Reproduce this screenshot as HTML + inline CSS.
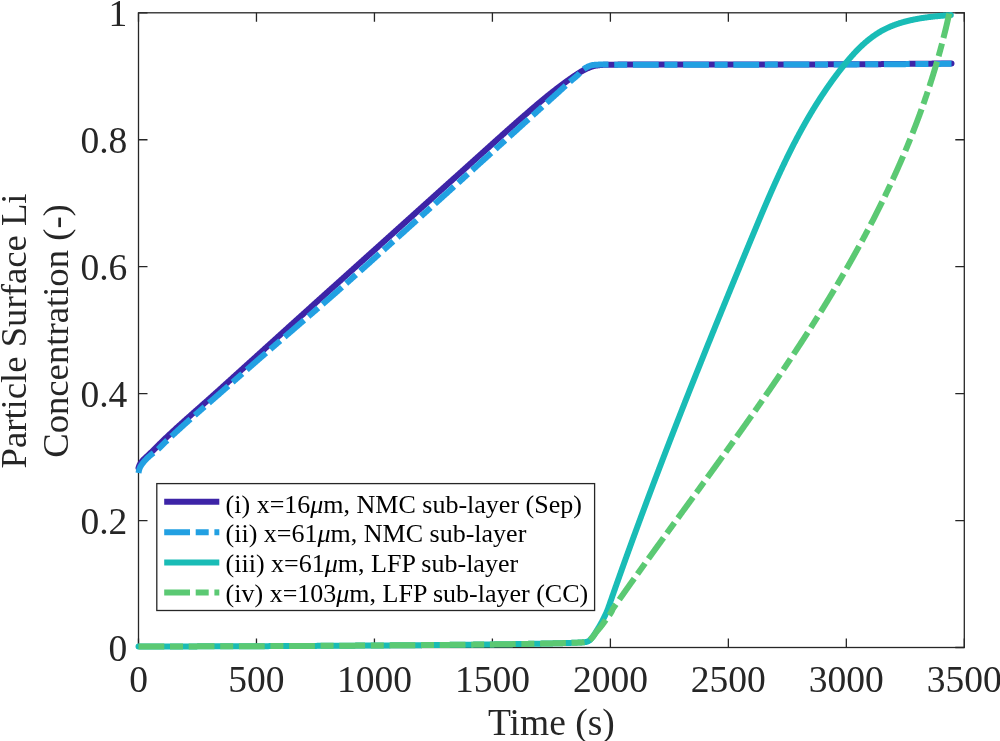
<!DOCTYPE html>
<html><head><meta charset="utf-8"><style>
html,body{margin:0;padding:0;background:#fff;}
svg{display:block;}
text{font-family:"Liberation Serif","Times New Roman",serif;fill:#262626;}
.lg text{fill:#000;}
</style></head><body>
<svg width="1000" height="741" viewBox="0 0 1000 741">
<rect x="0" y="0" width="1000" height="741" fill="#fff"/>
<rect x="138.5" y="12.8" width="825.80" height="634.70" fill="none" stroke="#262626" stroke-width="1.3"/>
<path d="M138.50,647.5 V638.5 M138.50,12.8 V21.8 M256.47,647.5 V638.5 M256.47,12.8 V21.8 M374.44,647.5 V638.5 M374.44,12.8 V21.8 M492.41,647.5 V638.5 M492.41,12.8 V21.8 M610.39,647.5 V638.5 M610.39,12.8 V21.8 M728.36,647.5 V638.5 M728.36,12.8 V21.8 M846.33,647.5 V638.5 M846.33,12.8 V21.8 M964.30,647.5 V638.5 M964.30,12.8 V21.8 M138.5,647.50 H147.5 M964.3,647.50 H955.3 M138.5,520.56 H147.5 M964.3,520.56 H955.3 M138.5,393.62 H147.5 M964.3,393.62 H955.3 M138.5,266.68 H147.5 M964.3,266.68 H955.3 M138.5,139.74 H147.5 M964.3,139.74 H955.3 M138.5,12.80 H147.5 M964.3,12.80 H955.3" stroke="#262626" stroke-width="1.3" fill="none"/>
<g font-size="37.5"><text x="138.50" y="692" text-anchor="middle">0</text><text x="256.47" y="692" text-anchor="middle">500</text><text x="374.44" y="692" text-anchor="middle">1000</text><text x="492.41" y="692" text-anchor="middle">1500</text><text x="610.39" y="692" text-anchor="middle">2000</text><text x="728.36" y="692" text-anchor="middle">2500</text><text x="846.33" y="692" text-anchor="middle">3000</text><text x="964.30" y="692" text-anchor="middle">3500</text><text x="127.3" y="660.50" text-anchor="end">0</text><text x="127.3" y="533.56" text-anchor="end">0.2</text><text x="127.3" y="406.62" text-anchor="end">0.4</text><text x="127.3" y="279.68" text-anchor="end">0.6</text><text x="127.3" y="152.74" text-anchor="end">0.8</text><text x="127.3" y="25.80" text-anchor="end">1</text></g>
<text x="551.40" y="735" font-size="37.5" text-anchor="middle">Time (s)</text>
<g transform="translate(0,331.0) rotate(-90)" font-size="36.7" text-anchor="middle">
<text x="0" y="26.3">Particle Surface Li</text>
<text x="0" y="67.5">Concentration (-)</text>
</g>

<path d="M138.50,468.00 L139.00,466.47 L139.50,465.20 L140.00,464.20 L140.50,463.35 L141.00,462.60 L141.50,461.91 L142.00,461.28 L142.50,460.69 L143.00,460.14 L143.50,459.60 L144.00,459.08 L144.50,458.60 L145.00,458.13 L145.50,457.67 L146.00,457.22 L146.50,456.76 L147.00,456.30 L147.50,455.83 L148.00,455.36 L148.50,454.90 L149.00,454.43 L149.50,453.97 L150.00,453.50 L150.50,453.03 L151.00,452.56 L151.50,452.08 L152.00,451.60 L152.50,451.11 L153.00,450.62 L153.50,450.11 L154.00,449.61 L154.50,449.10 L155.00,448.59 L155.50,448.07 L156.00,447.56 L156.50,447.04 L157.00,446.53 L157.50,446.02 L158.00,445.51 L158.50,445.00 L159.00,444.50 L159.50,444.01 L160.00,443.52 L160.50,443.04 L161.00,442.56 L161.50,442.08 L162.00,441.59 L162.50,441.12 L163.00,440.64 L163.50,440.16 L164.00,439.68 L164.50,439.21 L165.00,438.73 L165.50,438.26 L166.00,437.79 L166.50,437.32 L167.00,436.85 L167.50,436.38 L168.00,435.91 L168.50,435.44 L169.00,434.97 L169.50,434.50 L170.00,434.04 L170.50,433.57 L171.00,433.11 L171.50,432.65 L172.00,432.18 L172.50,431.72 L173.00,431.26 L173.50,430.80 L174.00,430.34 L174.50,429.88 L175.00,429.42 L175.50,428.96 L176.00,428.51 L176.50,428.05 L177.00,427.60 L177.50,427.14 L178.00,426.69 L178.50,426.23 L179.00,425.78 L179.50,425.32 L180.00,424.87 L180.50,424.42 L181.00,423.97 L181.50,423.52 L182.00,423.07 L182.50,422.62 L183.00,422.17 L183.50,421.72 L184.00,421.27 L184.50,420.82 L185.00,420.38 L185.50,419.93 L186.00,419.48 L186.50,419.03 L187.00,418.59 L187.50,418.14 L188.00,417.70 L188.50,417.25 L189.00,416.81 L189.50,416.36 L190.00,415.92 L190.50,415.47 L191.00,415.03 L191.50,414.59 L192.00,414.14 L192.50,413.70 L193.00,413.26 L193.50,412.81 L194.00,412.37 L194.50,411.93 L195.00,411.49 L195.50,411.04 L196.00,410.60 L196.50,410.16 L197.00,409.72 L197.50,409.28 L198.00,408.83 L198.50,408.39 L199.00,407.95 L199.50,407.51 L200.00,407.07 L200.50,406.63 L201.00,406.18 L201.50,405.74 L202.00,405.30 L202.50,404.86 L203.00,404.42 L203.50,403.98 L204.00,403.53 L204.50,403.09 L205.00,402.65 L205.50,402.21 L206.00,401.77 L206.50,401.32 L207.00,400.88 L207.50,400.44 L208.00,399.99 L208.50,399.55 L209.00,399.11 L209.50,398.66 L210.00,398.22 L210.50,397.77 L211.00,397.33 L211.50,396.89 L212.00,396.44 L212.50,395.99 L213.00,395.55 L213.50,395.10 L214.00,394.66 L214.50,394.21 L215.00,393.76 L215.50,393.31 L216.00,392.87 L216.50,392.42 L217.00,391.97 L217.50,391.52 L218.00,391.07 L218.50,390.62 L219.00,390.17 L219.50,389.72 L220.00,389.26 L220.50,388.81 L221.00,388.36 L221.50,387.91 L222.00,387.46 L222.50,387.00 L223.00,386.55 L223.50,386.10 L224.00,385.65 L224.50,385.19 L225.00,384.74 L225.50,384.29 L226.00,383.84 L226.50,383.38 L227.00,382.93 L227.50,382.48 L228.00,382.03 L228.50,381.58 L229.00,381.12 L229.50,380.67 L230.00,380.22 L230.50,379.77 L231.00,379.31 L231.50,378.86 L232.00,378.41 L232.50,377.96 L233.00,377.50 L233.50,377.05 L234.00,376.60 L234.50,376.15 L235.00,375.69 L235.50,375.24 L236.00,374.79 L236.50,374.34 L237.00,373.88 L237.50,373.43 L238.00,372.98 L238.50,372.53 L239.00,372.07 L239.50,371.62 L240.00,371.17 L240.50,370.72 L241.00,370.26 L241.50,369.81 L242.00,369.36 L242.50,368.91 L243.00,368.45 L243.50,368.00 L244.00,367.55 L244.50,367.10 L245.00,366.64 L245.50,366.19 L246.00,365.74 L246.50,365.29 L247.00,364.83 L247.50,364.38 L248.00,363.93 L248.50,363.48 L249.00,363.02 L249.50,362.57 L250.00,362.12 L250.50,361.67 L251.00,361.21 L251.50,360.76 L252.00,360.31 L252.50,359.86 L253.00,359.40 L253.50,358.95 L254.00,358.50 L254.50,358.05 L255.00,357.59 L255.50,357.14 L256.00,356.69 L256.50,356.24 L257.00,355.78 L257.50,355.33 L258.00,354.88 L258.50,354.43 L259.00,353.97 L259.50,353.52 L260.00,353.07 L260.50,352.62 L261.00,352.16 L261.50,351.71 L262.00,351.26 L262.50,350.81 L263.00,350.35 L263.50,349.90 L264.00,349.45 L264.50,349.00 L265.00,348.54 L265.50,348.09 L266.00,347.64 L266.50,347.19 L267.00,346.73 L267.50,346.28 L268.00,345.83 L268.50,345.38 L269.00,344.93 L269.50,344.47 L270.00,344.02 L270.50,343.57 L271.00,343.12 L271.50,342.66 L272.00,342.21 L272.50,341.76 L273.00,341.31 L273.50,340.86 L274.00,340.40 L274.50,339.95 L275.00,339.50 L275.50,339.05 L276.00,338.59 L276.50,338.14 L277.00,337.69 L277.50,337.24 L278.00,336.79 L278.50,336.33 L279.00,335.88 L279.50,335.43 L280.00,334.98 L280.50,334.53 L281.00,334.08 L281.50,333.62 L282.00,333.17 L282.50,332.72 L283.00,332.27 L283.50,331.82 L284.00,331.36 L284.50,330.91 L285.00,330.46 L285.50,330.01 L286.00,329.56 L286.50,329.11 L287.00,328.65 L287.50,328.20 L288.00,327.75 L288.50,327.30 L289.00,326.85 L289.50,326.40 L290.00,325.94 L290.50,325.49 L291.00,325.04 L291.50,324.59 L292.00,324.14 L292.50,323.69 L293.00,323.24 L293.50,322.78 L294.00,322.33 L294.50,321.88 L295.00,321.43 L295.50,320.98 L296.00,320.53 L296.50,320.08 L297.00,319.63 L297.50,319.18 L298.00,318.72 L298.50,318.27 L299.00,317.82 L299.50,317.37 L300.00,316.92 L300.50,316.47 L301.00,316.02 L301.50,315.57 L302.00,315.12 L302.50,314.67 L303.00,314.21 L303.50,313.76 L304.00,313.31 L304.50,312.86 L305.00,312.41 L305.50,311.96 L306.00,311.51 L306.50,311.06 L307.00,310.61 L307.50,310.16 L308.00,309.71 L308.50,309.26 L309.00,308.81 L309.50,308.36 L310.00,307.91 L310.50,307.46 L311.00,307.01 L311.50,306.55 L312.00,306.10 L312.50,305.65 L313.00,305.20 L313.50,304.75 L314.00,304.30 L314.50,303.85 L315.00,303.40 L315.50,302.95 L316.00,302.50 L316.50,302.05 L317.00,301.60 L317.50,301.15 L318.00,300.70 L318.50,300.25 L319.00,299.80 L319.50,299.35 L320.00,298.90 L320.50,298.45 L321.00,298.00 L321.50,297.55 L322.00,297.10 L322.50,296.65 L323.00,296.20 L323.50,295.75 L324.00,295.30 L324.50,294.85 L325.00,294.40 L325.50,293.95 L326.00,293.50 L326.50,293.05 L327.00,292.60 L327.50,292.15 L328.00,291.70 L328.50,291.25 L329.00,290.80 L329.50,290.35 L330.00,289.90 L330.50,289.45 L331.00,289.00 L331.50,288.55 L332.00,288.10 L332.50,287.65 L333.00,287.20 L333.50,286.76 L334.00,286.31 L334.50,285.86 L335.00,285.41 L335.50,284.96 L336.00,284.51 L336.50,284.06 L337.00,283.61 L337.50,283.16 L338.00,282.71 L338.50,282.26 L339.00,281.81 L339.50,281.36 L340.00,280.91 L340.50,280.46 L341.00,280.01 L341.50,279.56 L342.00,279.11 L342.50,278.66 L343.00,278.21 L343.50,277.76 L344.00,277.32 L344.50,276.87 L345.00,276.42 L345.50,275.97 L346.00,275.52 L346.50,275.07 L347.00,274.62 L347.50,274.17 L348.00,273.72 L348.50,273.27 L349.00,272.82 L349.50,272.37 L350.00,271.92 L350.50,271.47 L351.00,271.02 L351.50,270.57 L352.00,270.13 L352.50,269.68 L353.00,269.23 L353.50,268.78 L354.00,268.33 L354.50,267.88 L355.00,267.43 L355.50,266.98 L356.00,266.53 L356.50,266.08 L357.00,265.63 L357.50,265.18 L358.00,264.73 L358.50,264.28 L359.00,263.84 L359.50,263.39 L360.00,262.94 L360.50,262.49 L361.00,262.04 L361.50,261.59 L362.00,261.14 L362.50,260.69 L363.00,260.24 L363.50,259.79 L364.00,259.34 L364.50,258.89 L365.00,258.44 L365.50,258.00 L366.00,257.55 L366.50,257.10 L367.00,256.65 L367.50,256.20 L368.00,255.75 L368.50,255.30 L369.00,254.85 L369.50,254.40 L370.00,253.95 L370.50,253.50 L371.00,253.05 L371.50,252.61 L372.00,252.16 L372.50,251.71 L373.00,251.26 L373.50,250.81 L374.00,250.36 L374.50,249.91 L375.00,249.46 L375.50,249.01 L376.00,248.56 L376.50,248.11 L377.00,247.66 L377.50,247.21 L378.00,246.76 L378.50,246.32 L379.00,245.87 L379.50,245.42 L380.00,244.97 L380.50,244.52 L381.00,244.07 L381.50,243.62 L382.00,243.17 L382.50,242.72 L383.00,242.27 L383.50,241.82 L384.00,241.37 L384.50,240.92 L385.00,240.47 L385.50,240.03 L386.00,239.58 L386.50,239.13 L387.00,238.68 L387.50,238.23 L388.00,237.78 L388.50,237.33 L389.00,236.88 L389.50,236.43 L390.00,235.98 L390.50,235.53 L391.00,235.08 L391.50,234.63 L392.00,234.18 L392.50,233.73 L393.00,233.28 L393.50,232.83 L394.00,232.38 L394.50,231.94 L395.00,231.49 L395.50,231.04 L396.00,230.59 L396.50,230.14 L397.00,229.69 L397.50,229.24 L398.00,228.79 L398.50,228.34 L399.00,227.89 L399.50,227.44 L400.00,226.99 L400.50,226.54 L401.00,226.09 L401.50,225.64 L402.00,225.19 L402.50,224.74 L403.00,224.29 L403.50,223.84 L404.00,223.39 L404.50,222.94 L405.00,222.49 L405.50,222.04 L406.00,221.59 L406.50,221.14 L407.00,220.69 L407.50,220.24 L408.00,219.79 L408.50,219.34 L409.00,218.89 L409.50,218.44 L410.00,217.99 L410.50,217.54 L411.00,217.10 L411.50,216.65 L412.00,216.20 L412.50,215.75 L413.00,215.30 L413.50,214.85 L414.00,214.40 L414.50,213.95 L415.00,213.50 L415.50,213.05 L416.00,212.60 L416.50,212.15 L417.00,211.70 L417.50,211.25 L418.00,210.80 L418.50,210.35 L419.00,209.90 L419.50,209.45 L420.00,209.00 L420.50,208.55 L421.00,208.10 L421.50,207.65 L422.00,207.20 L422.50,206.75 L423.00,206.30 L423.50,205.85 L424.00,205.40 L424.50,204.95 L425.00,204.50 L425.50,204.05 L426.00,203.60 L426.50,203.15 L427.00,202.70 L427.50,202.25 L428.00,201.80 L428.50,201.35 L429.00,200.90 L429.50,200.45 L430.00,200.00 L430.50,199.55 L431.00,199.10 L431.50,198.65 L432.00,198.20 L432.50,197.75 L433.00,197.30 L433.50,196.85 L434.00,196.40 L434.50,195.95 L435.00,195.50 L435.50,195.05 L436.00,194.60 L436.50,194.15 L437.00,193.70 L437.50,193.25 L438.00,192.80 L438.50,192.35 L439.00,191.90 L439.50,191.45 L440.00,191.00 L440.50,190.55 L441.00,190.10 L441.50,189.65 L442.00,189.20 L442.50,188.75 L443.00,188.30 L443.50,187.85 L444.00,187.40 L444.50,186.95 L445.00,186.50 L445.50,186.05 L446.00,185.60 L446.50,185.15 L447.00,184.70 L447.50,184.25 L448.00,183.80 L448.50,183.35 L449.00,182.90 L449.50,182.45 L450.00,182.00 L450.50,181.55 L451.00,181.10 L451.50,180.65 L452.00,180.20 L452.50,179.75 L453.00,179.30 L453.50,178.85 L454.00,178.40 L454.50,177.95 L455.00,177.50 L455.50,177.06 L456.00,176.61 L456.50,176.16 L457.00,175.71 L457.50,175.26 L458.00,174.81 L458.50,174.36 L459.00,173.91 L459.50,173.46 L460.00,173.01 L460.50,172.56 L461.00,172.11 L461.50,171.66 L462.00,171.21 L462.50,170.76 L463.00,170.31 L463.50,169.86 L464.00,169.41 L464.50,168.96 L465.00,168.52 L465.50,168.07 L466.00,167.62 L466.50,167.17 L467.00,166.72 L467.50,166.27 L468.00,165.82 L468.50,165.37 L469.00,164.92 L469.50,164.47 L470.00,164.02 L470.50,163.57 L471.00,163.13 L471.50,162.68 L472.00,162.23 L472.50,161.78 L473.00,161.33 L473.50,160.88 L474.00,160.43 L474.50,159.98 L475.00,159.53 L475.50,159.08 L476.00,158.64 L476.50,158.19 L477.00,157.74 L477.50,157.29 L478.00,156.84 L478.50,156.39 L479.00,155.94 L479.50,155.49 L480.00,155.05 L480.50,154.60 L481.00,154.15 L481.50,153.70 L482.00,153.25 L482.50,152.80 L483.00,152.35 L483.50,151.90 L484.00,151.45 L484.50,151.00 L485.00,150.55 L485.50,150.10 L486.00,149.65 L486.50,149.20 L487.00,148.75 L487.50,148.30 L488.00,147.85 L488.50,147.40 L489.00,146.95 L489.50,146.50 L490.00,146.05 L490.50,145.60 L491.00,145.15 L491.50,144.70 L492.00,144.25 L492.50,143.80 L493.00,143.35 L493.50,142.90 L494.00,142.45 L494.50,142.00 L495.00,141.55 L495.50,141.10 L496.00,140.65 L496.50,140.20 L497.00,139.75 L497.50,139.30 L498.00,138.85 L498.50,138.40 L499.00,137.95 L499.50,137.51 L500.00,137.06 L500.50,136.61 L501.00,136.16 L501.50,135.71 L502.00,135.26 L502.50,134.81 L503.00,134.37 L503.50,133.92 L504.00,133.47 L504.50,133.02 L505.00,132.58 L505.50,132.13 L506.00,131.68 L506.50,131.24 L507.00,130.79 L507.50,130.35 L508.00,129.90 L508.50,129.46 L509.00,129.01 L509.50,128.57 L510.00,128.12 L510.50,127.68 L511.00,127.23 L511.50,126.79 L512.00,126.35 L512.50,125.90 L513.00,125.46 L513.50,125.02 L514.00,124.58 L514.50,124.14 L515.00,123.70 L515.50,123.25 L516.00,122.81 L516.50,122.37 L517.00,121.93 L517.50,121.50 L518.00,121.06 L518.50,120.62 L519.00,120.18 L519.50,119.74 L520.00,119.30 L520.50,118.86 L521.00,118.43 L521.50,117.99 L522.00,117.55 L522.50,117.12 L523.00,116.68 L523.50,116.25 L524.00,115.81 L524.50,115.38 L525.00,114.94 L525.50,114.51 L526.00,114.08 L526.50,113.64 L527.00,113.21 L527.50,112.78 L528.00,112.35 L528.50,111.92 L529.00,111.49 L529.50,111.06 L530.00,110.63 L530.50,110.20 L531.00,109.77 L531.50,109.34 L532.00,108.92 L532.50,108.49 L533.00,108.06 L533.50,107.63 L534.00,107.20 L534.50,106.77 L535.00,106.35 L535.50,105.92 L536.00,105.49 L536.50,105.07 L537.00,104.64 L537.50,104.22 L538.00,103.79 L538.50,103.37 L539.00,102.95 L539.50,102.52 L540.00,102.10 L540.50,101.68 L541.00,101.27 L541.50,100.85 L542.00,100.43 L542.50,100.02 L543.00,99.61 L543.50,99.19 L544.00,98.78 L544.50,98.37 L545.00,97.97 L545.50,97.56 L546.00,97.15 L546.50,96.75 L547.00,96.35 L547.50,95.94 L548.00,95.54 L548.50,95.14 L549.00,94.74 L549.50,94.34 L550.00,93.94 L550.50,93.54 L551.00,93.14 L551.50,92.75 L552.00,92.35 L552.50,91.96 L553.00,91.57 L553.50,91.18 L554.00,90.79 L554.50,90.40 L555.00,90.01 L555.50,89.62 L556.00,89.24 L556.50,88.85 L557.00,88.47 L557.50,88.09 L558.00,87.71 L558.50,87.33 L559.00,86.95 L559.50,86.58 L560.00,86.20 L560.50,85.83 L561.00,85.46 L561.50,85.08 L562.00,84.71 L562.50,84.34 L563.00,83.97 L563.50,83.59 L564.00,83.22 L564.50,82.86 L565.00,82.49 L565.50,82.12 L566.00,81.75 L566.50,81.39 L567.00,81.03 L567.50,80.67 L568.00,80.31 L568.50,79.95 L569.00,79.59 L569.50,79.24 L570.00,78.88 L570.50,78.53 L571.00,78.19 L571.50,77.84 L572.00,77.50 L572.50,77.16 L573.00,76.82 L573.50,76.49 L574.00,76.15 L574.50,75.83 L575.00,75.50 L575.50,75.17 L576.00,74.85 L576.50,74.52 L577.00,74.19 L577.50,73.87 L578.00,73.54 L578.50,73.22 L579.00,72.89 L579.50,72.58 L580.00,72.26 L580.50,71.95 L581.00,71.65 L581.50,71.35 L582.00,71.06 L582.50,70.78 L583.00,70.50 L583.50,70.24 L584.00,69.98 L584.50,69.73 L585.00,69.50 L585.50,69.27 L586.00,69.04 L586.50,68.81 L587.00,68.58 L587.50,68.35 L588.00,68.13 L588.50,67.91 L589.00,67.69 L589.50,67.48 L590.00,67.27 L590.50,67.08 L591.00,66.89 L591.50,66.71 L592.00,66.54 L592.50,66.38 L593.00,66.24 L593.50,66.11 L594.00,65.99 L594.50,65.89 L595.00,65.80 L595.50,65.72 L596.00,65.65 L596.50,65.57 L597.00,65.50 L597.50,65.43 L598.00,65.37 L598.50,65.30 L599.00,65.24 L599.50,65.18 L600.00,65.13 L600.50,65.08 L601.00,65.03 L601.50,64.99 L602.00,64.95 L602.50,64.91 L603.00,64.88 L603.50,64.85 L604.00,64.83 L604.50,64.81 L605.00,64.80 L605.50,64.79 L606.00,64.78 L606.50,64.77 L607.00,64.76 L607.50,64.75 L608.00,64.74 L608.50,64.74 L609.00,64.73 L609.50,64.72 L610.00,64.71 L610.50,64.71 L611.00,64.70 L611.50,64.69 L612.00,64.68 L612.50,64.68 L613.00,64.67 L613.50,64.67 L614.00,64.66 L614.50,64.66 L615.00,64.65 L615.50,64.65 L616.00,64.64 L616.50,64.64 L617.00,64.63 L617.50,64.63 L618.00,64.62 L618.50,64.62 L619.00,64.62 L619.50,64.62 L620.00,64.61 L620.50,64.61 L621.00,64.61 L621.50,64.61 L622.00,64.60 L622.50,64.60 L623.00,64.60 L623.50,64.60 L624.00,64.60 L624.50,64.60 L625.00,64.60 L625.50,64.60 L626.00,64.60 L626.50,64.60 L627.00,64.60 L627.50,64.60 L628.00,64.60 L628.50,64.60 L629.00,64.60 L629.50,64.60 L630.00,64.60 L630.50,64.60 L631.00,64.60 L631.50,64.60 L632.00,64.60 L632.50,64.60 L633.00,64.60 L633.50,64.60 L634.00,64.60 L634.50,64.60 L635.00,64.60 L635.50,64.60 L636.00,64.60 L636.50,64.60 L637.00,64.60 L637.50,64.60 L638.00,64.60 L638.50,64.60 L639.00,64.60 L639.50,64.60 L640.00,64.60 L640.50,64.60 L641.00,64.60 L641.50,64.60 L642.00,64.60 L642.50,64.60 L643.00,64.60 L643.50,64.60 L644.00,64.60 L644.50,64.60 L645.00,64.60 L645.50,64.60 L646.00,64.60 L646.50,64.60 L647.00,64.60 L647.50,64.60 L648.00,64.60 L648.50,64.60 L649.00,64.60 L649.50,64.60 L650.00,64.60 L650.50,64.60 L651.00,64.60 L651.50,64.60 L652.00,64.60 L652.50,64.60 L653.00,64.60 L653.50,64.60 L654.00,64.60 L654.50,64.60 L655.00,64.60 L655.50,64.60 L656.00,64.60 L656.50,64.60 L657.00,64.60 L657.50,64.60 L658.00,64.60 L658.50,64.60 L659.00,64.60 L659.50,64.60 L660.00,64.60 L660.50,64.60 L661.00,64.60 L661.50,64.60 L662.00,64.60 L662.50,64.60 L663.00,64.60 L663.50,64.60 L664.00,64.60 L664.50,64.60 L665.00,64.60 L665.50,64.60 L666.00,64.60 L666.50,64.60 L667.00,64.60 L667.50,64.60 L668.00,64.60 L668.50,64.60 L669.00,64.60 L669.50,64.60 L670.00,64.60 L670.50,64.60 L671.00,64.60 L671.50,64.60 L672.00,64.60 L672.50,64.60 L673.00,64.60 L673.50,64.60 L674.00,64.60 L674.50,64.60 L675.00,64.60 L675.50,64.60 L676.00,64.60 L676.50,64.60 L677.00,64.60 L677.50,64.60 L678.00,64.60 L678.50,64.60 L679.00,64.60 L679.50,64.60 L680.00,64.60 L680.50,64.60 L681.00,64.60 L681.50,64.60 L682.00,64.60 L682.50,64.60 L683.00,64.60 L683.50,64.60 L684.00,64.60 L684.50,64.60 L685.00,64.60 L685.50,64.60 L686.00,64.60 L686.50,64.60 L687.00,64.60 L687.50,64.60 L688.00,64.60 L688.50,64.60 L689.00,64.60 L689.50,64.60 L690.00,64.60 L690.50,64.60 L691.00,64.60 L691.50,64.60 L692.00,64.60 L692.50,64.60 L693.00,64.60 L693.50,64.60 L694.00,64.60 L694.50,64.60 L695.00,64.60 L695.50,64.60 L696.00,64.60 L696.50,64.60 L697.00,64.60 L697.50,64.60 L698.00,64.60 L698.50,64.60 L699.00,64.60 L699.50,64.60 L700.00,64.60 L700.50,64.60 L701.00,64.60 L701.50,64.60 L702.00,64.60 L702.50,64.60 L703.00,64.60 L703.50,64.60 L704.00,64.60 L704.50,64.60 L705.00,64.60 L705.50,64.60 L706.00,64.60 L706.50,64.60 L707.00,64.60 L707.50,64.60 L708.00,64.60 L708.50,64.60 L709.00,64.60 L709.50,64.60 L710.00,64.60 L710.50,64.60 L711.00,64.60 L711.50,64.60 L712.00,64.60 L712.50,64.60 L713.00,64.60 L713.50,64.60 L714.00,64.60 L714.50,64.60 L715.00,64.60 L715.50,64.60 L716.00,64.60 L716.50,64.60 L717.00,64.60 L717.50,64.59 L718.00,64.59 L718.50,64.59 L719.00,64.59 L719.50,64.59 L720.00,64.59 L720.50,64.59 L721.00,64.59 L721.50,64.59 L722.00,64.59 L722.50,64.59 L723.00,64.59 L723.50,64.59 L724.00,64.59 L724.50,64.59 L725.00,64.59 L725.50,64.59 L726.00,64.59 L726.50,64.59 L727.00,64.59 L727.50,64.59 L728.00,64.59 L728.50,64.59 L729.00,64.59 L729.50,64.59 L730.00,64.59 L730.50,64.58 L731.00,64.58 L731.50,64.58 L732.00,64.58 L732.50,64.58 L733.00,64.58 L733.50,64.58 L734.00,64.58 L734.50,64.58 L735.00,64.58 L735.50,64.58 L736.00,64.58 L736.50,64.58 L737.00,64.58 L737.50,64.58 L738.00,64.58 L738.50,64.58 L739.00,64.58 L739.50,64.57 L740.00,64.57 L740.50,64.57 L741.00,64.57 L741.50,64.57 L742.00,64.57 L742.50,64.57 L743.00,64.57 L743.50,64.57 L744.00,64.57 L744.50,64.57 L745.00,64.57 L745.50,64.57 L746.00,64.57 L746.50,64.57 L747.00,64.56 L747.50,64.56 L748.00,64.56 L748.50,64.56 L749.00,64.56 L749.50,64.56 L750.00,64.56 L750.50,64.56 L751.00,64.56 L751.50,64.56 L752.00,64.56 L752.50,64.56 L753.00,64.56 L753.50,64.55 L754.00,64.55 L754.50,64.55 L755.00,64.55 L755.50,64.55 L756.00,64.55 L756.50,64.55 L757.00,64.55 L757.50,64.55 L758.00,64.55 L758.50,64.55 L759.00,64.55 L759.50,64.54 L760.00,64.54 L760.50,64.54 L761.00,64.54 L761.50,64.54 L762.00,64.54 L762.50,64.54 L763.00,64.54 L763.50,64.54 L764.00,64.54 L764.50,64.54 L765.00,64.53 L765.50,64.53 L766.00,64.53 L766.50,64.53 L767.00,64.53 L767.50,64.53 L768.00,64.53 L768.50,64.53 L769.00,64.53 L769.50,64.53 L770.00,64.52 L770.50,64.52 L771.00,64.52 L771.50,64.52 L772.00,64.52 L772.50,64.52 L773.00,64.52 L773.50,64.52 L774.00,64.52 L774.50,64.51 L775.00,64.51 L775.50,64.51 L776.00,64.51 L776.50,64.51 L777.00,64.51 L777.50,64.51 L778.00,64.51 L778.50,64.51 L779.00,64.51 L779.50,64.50 L780.00,64.50 L780.50,64.50 L781.00,64.50 L781.50,64.50 L782.00,64.50 L782.50,64.50 L783.00,64.50 L783.50,64.49 L784.00,64.49 L784.50,64.49 L785.00,64.49 L785.50,64.49 L786.00,64.49 L786.50,64.49 L787.00,64.49 L787.50,64.49 L788.00,64.48 L788.50,64.48 L789.00,64.48 L789.50,64.48 L790.00,64.48 L790.50,64.48 L791.00,64.48 L791.50,64.48 L792.00,64.47 L792.50,64.47 L793.00,64.47 L793.50,64.47 L794.00,64.47 L794.50,64.47 L795.00,64.47 L795.50,64.47 L796.00,64.46 L796.50,64.46 L797.00,64.46 L797.50,64.46 L798.00,64.46 L798.50,64.46 L799.00,64.46 L799.50,64.45 L800.00,64.45 L800.50,64.45 L801.00,64.45 L801.50,64.45 L802.00,64.45 L802.50,64.45 L803.00,64.45 L803.50,64.44 L804.00,64.44 L804.50,64.44 L805.00,64.44 L805.50,64.44 L806.00,64.44 L806.50,64.44 L807.00,64.43 L807.50,64.43 L808.00,64.43 L808.50,64.43 L809.00,64.43 L809.50,64.43 L810.00,64.43 L810.50,64.42 L811.00,64.42 L811.50,64.42 L812.00,64.42 L812.50,64.42 L813.00,64.42 L813.50,64.42 L814.00,64.41 L814.50,64.41 L815.00,64.41 L815.50,64.41 L816.00,64.41 L816.50,64.41 L817.00,64.41 L817.50,64.40 L818.00,64.40 L818.50,64.40 L819.00,64.40 L819.50,64.40 L820.00,64.40 L820.50,64.40 L821.00,64.39 L821.50,64.39 L822.00,64.39 L822.50,64.39 L823.00,64.39 L823.50,64.39 L824.00,64.38 L824.50,64.38 L825.00,64.38 L825.50,64.38 L826.00,64.38 L826.50,64.38 L827.00,64.38 L827.50,64.37 L828.00,64.37 L828.50,64.37 L829.00,64.37 L829.50,64.37 L830.00,64.37 L830.50,64.36 L831.00,64.36 L831.50,64.36 L832.00,64.36 L832.50,64.36 L833.00,64.36 L833.50,64.35 L834.00,64.35 L834.50,64.35 L835.00,64.35 L835.50,64.35 L836.00,64.35 L836.50,64.34 L837.00,64.34 L837.50,64.34 L838.00,64.34 L838.50,64.34 L839.00,64.34 L839.50,64.34 L840.00,64.33 L840.50,64.33 L841.00,64.33 L841.50,64.33 L842.00,64.33 L842.50,64.33 L843.00,64.32 L843.50,64.32 L844.00,64.32 L844.50,64.32 L845.00,64.32 L845.50,64.32 L846.00,64.31 L846.50,64.31 L847.00,64.31 L847.50,64.31 L848.00,64.31 L848.50,64.31 L849.00,64.30 L849.50,64.30 L850.00,64.30 L850.50,64.30 L851.00,64.30 L851.50,64.29 L852.00,64.29 L852.50,64.29 L853.00,64.29 L853.50,64.29 L854.00,64.29 L854.50,64.28 L855.00,64.28 L855.50,64.28 L856.00,64.28 L856.50,64.27 L857.00,64.27 L857.50,64.27 L858.00,64.27 L858.50,64.27 L859.00,64.26 L859.50,64.26 L860.00,64.26 L860.50,64.26 L861.00,64.25 L861.50,64.25 L862.00,64.25 L862.50,64.25 L863.00,64.24 L863.50,64.24 L864.00,64.24 L864.50,64.23 L865.00,64.23 L865.50,64.23 L866.00,64.23 L866.50,64.22 L867.00,64.22 L867.50,64.22 L868.00,64.21 L868.50,64.21 L869.00,64.21 L869.50,64.21 L870.00,64.20 L870.50,64.20 L871.00,64.20 L871.50,64.19 L872.00,64.19 L872.50,64.19 L873.00,64.18 L873.50,64.18 L874.00,64.18 L874.50,64.17 L875.00,64.17 L875.50,64.17 L876.00,64.16 L876.50,64.16 L877.00,64.15 L877.50,64.15 L878.00,64.15 L878.50,64.14 L879.00,64.14 L879.50,64.14 L880.00,64.13 L880.50,64.13 L881.00,64.13 L881.50,64.12 L882.00,64.12 L882.50,64.11 L883.00,64.11 L883.50,64.11 L884.00,64.10 L884.50,64.10 L885.00,64.09 L885.50,64.09 L886.00,64.09 L886.50,64.08 L887.00,64.08 L887.50,64.07 L888.00,64.07 L888.50,64.06 L889.00,64.06 L889.50,64.06 L890.00,64.05 L890.50,64.05 L891.00,64.04 L891.50,64.04 L892.00,64.03 L892.50,64.03 L893.00,64.03 L893.50,64.02 L894.00,64.02 L894.50,64.01 L895.00,64.01 L895.50,64.00 L896.00,64.00 L896.50,63.99 L897.00,63.99 L897.50,63.99 L898.00,63.98 L898.50,63.98 L899.00,63.97 L899.50,63.97 L900.00,63.96 L900.50,63.96 L901.00,63.95 L901.50,63.95 L902.00,63.94 L902.50,63.94 L903.00,63.93 L903.50,63.93 L904.00,63.92 L904.50,63.92 L905.00,63.91 L905.50,63.91 L906.00,63.90 L906.50,63.90 L907.00,63.89 L907.50,63.89 L908.00,63.88 L908.50,63.88 L909.00,63.87 L909.50,63.87 L910.00,63.86 L910.50,63.86 L911.00,63.85 L911.50,63.85 L912.00,63.84 L912.50,63.84 L913.00,63.83 L913.50,63.83 L914.00,63.82 L914.50,63.82 L915.00,63.81 L915.50,63.81 L916.00,63.80 L916.50,63.80 L917.00,63.79 L917.50,63.78 L918.00,63.78 L918.50,63.77 L919.00,63.77 L919.50,63.76 L920.00,63.76 L920.50,63.75 L921.00,63.75 L921.50,63.74 L922.00,63.74 L922.50,63.73 L923.00,63.73 L923.50,63.72 L924.00,63.71 L924.50,63.71 L925.00,63.70 L925.50,63.70 L926.00,63.69 L926.50,63.69 L927.00,63.68 L927.50,63.68 L928.00,63.67 L928.50,63.66 L929.00,63.66 L929.50,63.65 L930.00,63.65 L930.50,63.64 L931.00,63.64 L931.50,63.63 L932.00,63.62 L932.50,63.62 L933.00,63.61 L933.50,63.61 L934.00,63.60 L934.50,63.60 L935.00,63.59 L935.50,63.58 L936.00,63.58 L936.50,63.57 L937.00,63.57 L937.50,63.56 L938.00,63.56 L938.50,63.55 L939.00,63.54 L939.50,63.54 L940.00,63.53 L940.50,63.53 L941.00,63.52 L941.50,63.52 L942.00,63.51 L942.50,63.50 L943.00,63.50 L943.50,63.49 L944.00,63.49 L944.50,63.48 L945.00,63.48 L945.50,63.47 L946.00,63.46 L946.50,63.46 L947.00,63.45 L947.50,63.45 L948.00,63.44 L948.50,63.43 L949.00,63.43 L949.50,63.42 L950.00,63.42 L950.50,63.41 L951.00,63.41 L951.50,63.40" stroke="#3d24a7" stroke-width="6" fill="none" stroke-linejoin="round" stroke-linecap="round"/>
<path d="M138.50,473.00 L139.00,470.29 L139.50,468.61 L140.00,467.45 L140.50,466.50 L141.00,465.64 L141.50,464.87 L142.00,464.17 L142.50,463.50 L143.00,462.85 L143.50,462.24 L144.00,461.65 L144.50,461.08 L145.00,460.53 L145.50,460.00 L146.00,459.48 L146.50,458.97 L147.00,458.47 L147.50,457.98 L148.00,457.51 L148.50,457.04 L149.00,456.59 L149.50,456.14 L150.00,455.70 L150.50,455.27 L151.00,454.86 L151.50,454.47 L152.00,454.08 L152.50,453.70 L153.00,453.32 L153.50,452.95 L154.00,452.58 L154.50,452.20 L155.00,451.82 L155.50,451.43 L156.00,451.04 L156.50,450.63 L157.00,450.20 L157.50,449.76 L158.00,449.30 L158.50,448.84 L159.00,448.36 L159.50,447.88 L160.00,447.39 L160.50,446.89 L161.00,446.39 L161.50,445.88 L162.00,445.38 L162.50,444.87 L163.00,444.37 L163.50,443.87 L164.00,443.37 L164.50,442.88 L165.00,442.40 L165.50,441.92 L166.00,441.45 L166.50,440.97 L167.00,440.50 L167.50,440.03 L168.00,439.55 L168.50,439.08 L169.00,438.61 L169.50,438.14 L170.00,437.67 L170.50,437.21 L171.00,436.74 L171.50,436.27 L172.00,435.80 L172.50,435.34 L173.00,434.87 L173.50,434.41 L174.00,433.95 L174.50,433.49 L175.00,433.02 L175.50,432.56 L176.00,432.10 L176.50,431.64 L177.00,431.18 L177.50,430.72 L178.00,430.27 L178.50,429.81 L179.00,429.35 L179.50,428.90 L180.00,428.44 L180.50,427.99 L181.00,427.53 L181.50,427.08 L182.00,426.63 L182.50,426.18 L183.00,425.72 L183.50,425.27 L184.00,424.82 L184.50,424.37 L185.00,423.92 L185.50,423.48 L186.00,423.03 L186.50,422.58 L187.00,422.14 L187.50,421.69 L188.00,421.25 L188.50,420.80 L189.00,420.36 L189.50,419.91 L190.00,419.47 L190.50,419.03 L191.00,418.59 L191.50,418.14 L192.00,417.70 L192.50,417.26 L193.00,416.82 L193.50,416.38 L194.00,415.94 L194.50,415.51 L195.00,415.07 L195.50,414.63 L196.00,414.19 L196.50,413.75 L197.00,413.32 L197.50,412.88 L198.00,412.44 L198.50,412.01 L199.00,411.57 L199.50,411.13 L200.00,410.70 L200.50,410.26 L201.00,409.83 L201.50,409.39 L202.00,408.96 L202.50,408.52 L203.00,408.09 L203.50,407.65 L204.00,407.22 L204.50,406.78 L205.00,406.35 L205.50,405.92 L206.00,405.48 L206.50,405.05 L207.00,404.61 L207.50,404.18 L208.00,403.75 L208.50,403.31 L209.00,402.88 L209.50,402.44 L210.00,402.01 L210.50,401.58 L211.00,401.14 L211.50,400.71 L212.00,400.27 L212.50,399.84 L213.00,399.40 L213.50,398.97 L214.00,398.53 L214.50,398.10 L215.00,397.66 L215.50,397.23 L216.00,396.79 L216.50,396.35 L217.00,395.92 L217.50,395.48 L218.00,395.04 L218.50,394.61 L219.00,394.17 L219.50,393.73 L220.00,393.29 L220.50,392.85 L221.00,392.41 L221.50,391.97 L222.00,391.54 L222.50,391.10 L223.00,390.66 L223.50,390.22 L224.00,389.78 L224.50,389.34 L225.00,388.90 L225.50,388.46 L226.00,388.02 L226.50,387.58 L227.00,387.14 L227.50,386.70 L228.00,386.26 L228.50,385.82 L229.00,385.38 L229.50,384.94 L230.00,384.51 L230.50,384.07 L231.00,383.63 L231.50,383.19 L232.00,382.75 L232.50,382.31 L233.00,381.87 L233.50,381.43 L234.00,380.99 L234.50,380.55 L235.00,380.11 L235.50,379.67 L236.00,379.23 L236.50,378.79 L237.00,378.35 L237.50,377.91 L238.00,377.47 L238.50,377.03 L239.00,376.59 L239.50,376.15 L240.00,375.71 L240.50,375.27 L241.00,374.83 L241.50,374.40 L242.00,373.96 L242.50,373.52 L243.00,373.08 L243.50,372.64 L244.00,372.20 L244.50,371.76 L245.00,371.32 L245.50,370.89 L246.00,370.45 L246.50,370.01 L247.00,369.57 L247.50,369.13 L248.00,368.70 L248.50,368.26 L249.00,367.82 L249.50,367.38 L250.00,366.95 L250.50,366.51 L251.00,366.07 L251.50,365.63 L252.00,365.20 L252.50,364.76 L253.00,364.32 L253.50,363.89 L254.00,363.45 L254.50,363.02 L255.00,362.58 L255.50,362.14 L256.00,361.71 L256.50,361.27 L257.00,360.84 L257.50,360.40 L258.00,359.97 L258.50,359.53 L259.00,359.10 L259.50,358.67 L260.00,358.23 L260.50,357.80 L261.00,357.36 L261.50,356.93 L262.00,356.50 L262.50,356.06 L263.00,355.63 L263.50,355.20 L264.00,354.76 L264.50,354.33 L265.00,353.90 L265.50,353.46 L266.00,353.03 L266.50,352.60 L267.00,352.16 L267.50,351.73 L268.00,351.30 L268.50,350.87 L269.00,350.44 L269.50,350.00 L270.00,349.57 L270.50,349.14 L271.00,348.71 L271.50,348.28 L272.00,347.84 L272.50,347.41 L273.00,346.98 L273.50,346.55 L274.00,346.12 L274.50,345.69 L275.00,345.26 L275.50,344.82 L276.00,344.39 L276.50,343.96 L277.00,343.53 L277.50,343.10 L278.00,342.67 L278.50,342.24 L279.00,341.81 L279.50,341.38 L280.00,340.94 L280.50,340.51 L281.00,340.08 L281.50,339.65 L282.00,339.22 L282.50,338.79 L283.00,338.36 L283.50,337.93 L284.00,337.50 L284.50,337.07 L285.00,336.64 L285.50,336.21 L286.00,335.78 L286.50,335.34 L287.00,334.91 L287.50,334.48 L288.00,334.05 L288.50,333.62 L289.00,333.19 L289.50,332.76 L290.00,332.33 L290.50,331.90 L291.00,331.47 L291.50,331.04 L292.00,330.61 L292.50,330.17 L293.00,329.74 L293.50,329.31 L294.00,328.88 L294.50,328.45 L295.00,328.02 L295.50,327.59 L296.00,327.16 L296.50,326.73 L297.00,326.29 L297.50,325.86 L298.00,325.43 L298.50,325.00 L299.00,324.57 L299.50,324.14 L300.00,323.70 L300.50,323.27 L301.00,322.84 L301.50,322.41 L302.00,321.98 L302.50,321.55 L303.00,321.12 L303.50,320.69 L304.00,320.25 L304.50,319.82 L305.00,319.39 L305.50,318.96 L306.00,318.53 L306.50,318.10 L307.00,317.67 L307.50,317.24 L308.00,316.81 L308.50,316.38 L309.00,315.95 L309.50,315.52 L310.00,315.09 L310.50,314.66 L311.00,314.23 L311.50,313.80 L312.00,313.37 L312.50,312.94 L313.00,312.51 L313.50,312.08 L314.00,311.65 L314.50,311.22 L315.00,310.79 L315.50,310.36 L316.00,309.93 L316.50,309.50 L317.00,309.07 L317.50,308.64 L318.00,308.21 L318.50,307.78 L319.00,307.35 L319.50,306.92 L320.00,306.48 L320.50,306.05 L321.00,305.62 L321.50,305.19 L322.00,304.75 L322.50,304.32 L323.00,303.89 L323.50,303.46 L324.00,303.02 L324.50,302.59 L325.00,302.15 L325.50,301.72 L326.00,301.28 L326.50,300.85 L327.00,300.41 L327.50,299.98 L328.00,299.54 L328.50,299.10 L329.00,298.67 L329.50,298.23 L330.00,297.79 L330.50,297.35 L331.00,296.91 L331.50,296.48 L332.00,296.04 L332.50,295.60 L333.00,295.16 L333.50,294.72 L334.00,294.28 L334.50,293.84 L335.00,293.40 L335.50,292.96 L336.00,292.52 L336.50,292.08 L337.00,291.64 L337.50,291.20 L338.00,290.76 L338.50,290.31 L339.00,289.87 L339.50,289.43 L340.00,288.99 L340.50,288.55 L341.00,288.10 L341.50,287.66 L342.00,287.22 L342.50,286.78 L343.00,286.33 L343.50,285.89 L344.00,285.45 L344.50,285.00 L345.00,284.56 L345.50,284.12 L346.00,283.67 L346.50,283.23 L347.00,282.78 L347.50,282.34 L348.00,281.90 L348.50,281.45 L349.00,281.01 L349.50,280.56 L350.00,280.12 L350.50,279.67 L351.00,279.23 L351.50,278.78 L352.00,278.34 L352.50,277.89 L353.00,277.44 L353.50,277.00 L354.00,276.55 L354.50,276.11 L355.00,275.66 L355.50,275.21 L356.00,274.77 L356.50,274.32 L357.00,273.87 L357.50,273.43 L358.00,272.98 L358.50,272.53 L359.00,272.09 L359.50,271.64 L360.00,271.19 L360.50,270.74 L361.00,270.30 L361.50,269.85 L362.00,269.40 L362.50,268.95 L363.00,268.51 L363.50,268.06 L364.00,267.61 L364.50,267.16 L365.00,266.71 L365.50,266.27 L366.00,265.82 L366.50,265.37 L367.00,264.92 L367.50,264.47 L368.00,264.02 L368.50,263.57 L369.00,263.13 L369.50,262.68 L370.00,262.23 L370.50,261.78 L371.00,261.33 L371.50,260.88 L372.00,260.43 L372.50,259.98 L373.00,259.53 L373.50,259.09 L374.00,258.64 L374.50,258.19 L375.00,257.74 L375.50,257.29 L376.00,256.84 L376.50,256.39 L377.00,255.94 L377.50,255.49 L378.00,255.04 L378.50,254.59 L379.00,254.14 L379.50,253.69 L380.00,253.24 L380.50,252.79 L381.00,252.34 L381.50,251.89 L382.00,251.44 L382.50,251.00 L383.00,250.55 L383.50,250.10 L384.00,249.65 L384.50,249.20 L385.00,248.75 L385.50,248.30 L386.00,247.85 L386.50,247.40 L387.00,246.95 L387.50,246.50 L388.00,246.05 L388.50,245.60 L389.00,245.15 L389.50,244.70 L390.00,244.25 L390.50,243.80 L391.00,243.35 L391.50,242.90 L392.00,242.45 L392.50,242.00 L393.00,241.55 L393.50,241.11 L394.00,240.66 L394.50,240.21 L395.00,239.76 L395.50,239.31 L396.00,238.86 L396.50,238.41 L397.00,237.96 L397.50,237.51 L398.00,237.06 L398.50,236.61 L399.00,236.17 L399.50,235.72 L400.00,235.27 L400.50,234.82 L401.00,234.37 L401.50,233.92 L402.00,233.47 L402.50,233.02 L403.00,232.57 L403.50,232.13 L404.00,231.68 L404.50,231.23 L405.00,230.78 L405.50,230.33 L406.00,229.88 L406.50,229.43 L407.00,228.98 L407.50,228.53 L408.00,228.08 L408.50,227.63 L409.00,227.19 L409.50,226.74 L410.00,226.29 L410.50,225.84 L411.00,225.39 L411.50,224.94 L412.00,224.49 L412.50,224.04 L413.00,223.59 L413.50,223.14 L414.00,222.69 L414.50,222.24 L415.00,221.79 L415.50,221.34 L416.00,220.89 L416.50,220.44 L417.00,219.99 L417.50,219.54 L418.00,219.09 L418.50,218.64 L419.00,218.19 L419.50,217.74 L420.00,217.29 L420.50,216.84 L421.00,216.39 L421.50,215.94 L422.00,215.49 L422.50,215.04 L423.00,214.59 L423.50,214.14 L424.00,213.69 L424.50,213.24 L425.00,212.79 L425.50,212.34 L426.00,211.89 L426.50,211.44 L427.00,210.99 L427.50,210.54 L428.00,210.09 L428.50,209.63 L429.00,209.18 L429.50,208.73 L430.00,208.28 L430.50,207.83 L431.00,207.38 L431.50,206.93 L432.00,206.48 L432.50,206.03 L433.00,205.58 L433.50,205.13 L434.00,204.68 L434.50,204.23 L435.00,203.77 L435.50,203.32 L436.00,202.87 L436.50,202.42 L437.00,201.97 L437.50,201.52 L438.00,201.07 L438.50,200.62 L439.00,200.17 L439.50,199.72 L440.00,199.26 L440.50,198.81 L441.00,198.36 L441.50,197.91 L442.00,197.46 L442.50,197.01 L443.00,196.56 L443.50,196.11 L444.00,195.65 L444.50,195.20 L445.00,194.75 L445.50,194.30 L446.00,193.85 L446.50,193.40 L447.00,192.95 L447.50,192.50 L448.00,192.04 L448.50,191.59 L449.00,191.14 L449.50,190.69 L450.00,190.24 L450.50,189.79 L451.00,189.34 L451.50,188.88 L452.00,188.43 L452.50,187.98 L453.00,187.53 L453.50,187.08 L454.00,186.63 L454.50,186.17 L455.00,185.72 L455.50,185.27 L456.00,184.82 L456.50,184.37 L457.00,183.92 L457.50,183.46 L458.00,183.01 L458.50,182.56 L459.00,182.11 L459.50,181.66 L460.00,181.21 L460.50,180.75 L461.00,180.30 L461.50,179.85 L462.00,179.40 L462.50,178.95 L463.00,178.50 L463.50,178.04 L464.00,177.59 L464.50,177.14 L465.00,176.69 L465.50,176.24 L466.00,175.78 L466.50,175.33 L467.00,174.88 L467.50,174.43 L468.00,173.98 L468.50,173.53 L469.00,173.07 L469.50,172.62 L470.00,172.17 L470.50,171.72 L471.00,171.27 L471.50,170.81 L472.00,170.36 L472.50,169.91 L473.00,169.46 L473.50,169.01 L474.00,168.55 L474.50,168.10 L475.00,167.65 L475.50,167.20 L476.00,166.75 L476.50,166.30 L477.00,165.84 L477.50,165.39 L478.00,164.94 L478.50,164.49 L479.00,164.04 L479.50,163.58 L480.00,163.13 L480.50,162.68 L481.00,162.23 L481.50,161.78 L482.00,161.32 L482.50,160.87 L483.00,160.42 L483.50,159.97 L484.00,159.52 L484.50,159.07 L485.00,158.61 L485.50,158.16 L486.00,157.71 L486.50,157.26 L487.00,156.81 L487.50,156.35 L488.00,155.90 L488.50,155.45 L489.00,155.00 L489.50,154.55 L490.00,154.09 L490.50,153.64 L491.00,153.19 L491.50,152.74 L492.00,152.29 L492.50,151.84 L493.00,151.38 L493.50,150.93 L494.00,150.48 L494.50,150.03 L495.00,149.58 L495.50,149.13 L496.00,148.67 L496.50,148.22 L497.00,147.77 L497.50,147.32 L498.00,146.87 L498.50,146.41 L499.00,145.96 L499.50,145.51 L500.00,145.06 L500.50,144.61 L501.00,144.16 L501.50,143.71 L502.00,143.25 L502.50,142.80 L503.00,142.35 L503.50,141.90 L504.00,141.45 L504.50,140.99 L505.00,140.54 L505.50,140.09 L506.00,139.64 L506.50,139.19 L507.00,138.74 L507.50,138.28 L508.00,137.83 L508.50,137.38 L509.00,136.93 L509.50,136.48 L510.00,136.02 L510.50,135.57 L511.00,135.12 L511.50,134.67 L512.00,134.22 L512.50,133.76 L513.00,133.31 L513.50,132.86 L514.00,132.41 L514.50,131.96 L515.00,131.50 L515.50,131.05 L516.00,130.60 L516.50,130.15 L517.00,129.70 L517.50,129.24 L518.00,128.79 L518.50,128.34 L519.00,127.89 L519.50,127.44 L520.00,126.98 L520.50,126.53 L521.00,126.08 L521.50,125.63 L522.00,125.17 L522.50,124.72 L523.00,124.27 L523.50,123.82 L524.00,123.37 L524.50,122.91 L525.00,122.46 L525.50,122.01 L526.00,121.56 L526.50,121.10 L527.00,120.65 L527.50,120.20 L528.00,119.75 L528.50,119.30 L529.00,118.84 L529.50,118.39 L530.00,117.94 L530.50,117.49 L531.00,117.03 L531.50,116.58 L532.00,116.13 L532.50,115.68 L533.00,115.22 L533.50,114.77 L534.00,114.32 L534.50,113.87 L535.00,113.42 L535.50,112.96 L536.00,112.51 L536.50,112.06 L537.00,111.61 L537.50,111.15 L538.00,110.70 L538.50,110.25 L539.00,109.80 L539.50,109.34 L540.00,108.89 L540.50,108.44 L541.00,107.99 L541.50,107.54 L542.00,107.08 L542.50,106.63 L543.00,106.18 L543.50,105.73 L544.00,105.27 L544.50,104.82 L545.00,104.37 L545.50,103.92 L546.00,103.46 L546.50,103.01 L547.00,102.56 L547.50,102.11 L548.00,101.66 L548.50,101.20 L549.00,100.75 L549.50,100.30 L550.00,99.85 L550.50,99.39 L551.00,98.94 L551.50,98.49 L552.00,98.04 L552.50,97.59 L553.00,97.13 L553.50,96.68 L554.00,96.23 L554.50,95.78 L555.00,95.32 L555.50,94.87 L556.00,94.42 L556.50,93.97 L557.00,93.52 L557.50,93.06 L558.00,92.61 L558.50,92.16 L559.00,91.71 L559.50,91.25 L560.00,90.80 L560.50,90.35 L561.00,89.89 L561.50,89.44 L562.00,88.98 L562.50,88.53 L563.00,88.07 L563.50,87.61 L564.00,87.15 L564.50,86.69 L565.00,86.23 L565.50,85.78 L566.00,85.32 L566.50,84.86 L567.00,84.41 L567.50,83.95 L568.00,83.50 L568.50,83.05 L569.00,82.60 L569.50,82.15 L570.00,81.71 L570.50,81.26 L571.00,80.82 L571.50,80.38 L572.00,79.95 L572.50,79.52 L573.00,79.11 L573.50,78.70 L574.00,78.30 L574.50,77.90 L575.00,77.49 L575.50,77.09 L576.00,76.68 L576.50,76.26 L577.00,75.83 L577.50,75.39 L578.00,74.92 L578.50,74.43 L579.00,73.89 L579.50,73.32 L580.00,72.74 L580.50,72.15 L581.00,71.58 L581.50,71.02 L582.00,70.49 L582.50,70.02 L583.00,69.60 L583.50,69.22 L584.00,68.86 L584.50,68.52 L585.00,68.19 L585.50,67.88 L586.00,67.59 L586.50,67.31 L587.00,67.06 L587.50,66.82 L588.00,66.60 L588.50,66.39 L589.00,66.18 L589.50,65.98 L590.00,65.78 L590.50,65.60 L591.00,65.44 L591.50,65.29 L592.00,65.16 L592.50,65.07 L593.00,65.00 L593.50,64.95 L594.00,64.90 L594.50,64.86 L595.00,64.82 L595.50,64.78 L596.00,64.74 L596.50,64.71 L597.00,64.68 L597.50,64.66 L598.00,64.64 L598.50,64.62 L599.00,64.61 L599.50,64.60 L600.00,64.60 L600.50,64.60 L601.00,64.60 L601.50,64.60 L602.00,64.60 L602.50,64.60 L603.00,64.60 L603.50,64.61 L604.00,64.61 L604.50,64.61 L605.00,64.61 L605.50,64.61 L606.00,64.61 L606.50,64.62 L607.00,64.62 L607.50,64.62 L608.00,64.62 L608.50,64.63 L609.00,64.63 L609.50,64.63 L610.00,64.64 L610.50,64.64 L611.00,64.64 L611.50,64.64 L612.00,64.65 L612.50,64.65 L613.00,64.65 L613.50,64.66 L614.00,64.66 L614.50,64.66 L615.00,64.66 L615.50,64.67 L616.00,64.67 L616.50,64.67 L617.00,64.68 L617.50,64.68 L618.00,64.68 L618.50,64.68 L619.00,64.69 L619.50,64.69 L620.00,64.69 L620.50,64.69 L621.00,64.69 L621.50,64.69 L622.00,64.70 L622.50,64.70 L623.00,64.70 L623.50,64.70 L624.00,64.70 L624.50,64.70 L625.00,64.70 L625.50,64.70 L626.00,64.70 L626.50,64.70 L627.00,64.70 L627.50,64.70 L628.00,64.70 L628.50,64.70 L629.00,64.70 L629.50,64.70 L630.00,64.70 L630.50,64.70 L631.00,64.70 L631.50,64.70 L632.00,64.70 L632.50,64.70 L633.00,64.70 L633.50,64.70 L634.00,64.70 L634.50,64.70 L635.00,64.70 L635.50,64.70 L636.00,64.70 L636.50,64.70 L637.00,64.70 L637.50,64.70 L638.00,64.70 L638.50,64.70 L639.00,64.70 L639.50,64.70 L640.00,64.70 L640.50,64.70 L641.00,64.70 L641.50,64.70 L642.00,64.70 L642.50,64.70 L643.00,64.70 L643.50,64.70 L644.00,64.70 L644.50,64.70 L645.00,64.70 L645.50,64.70 L646.00,64.70 L646.50,64.70 L647.00,64.70 L647.50,64.70 L648.00,64.70 L648.50,64.70 L649.00,64.70 L649.50,64.70 L650.00,64.70 L650.50,64.70 L651.00,64.70 L651.50,64.70 L652.00,64.70 L652.50,64.70 L653.00,64.70 L653.50,64.70 L654.00,64.70 L654.50,64.70 L655.00,64.70 L655.50,64.70 L656.00,64.70 L656.50,64.70 L657.00,64.70 L657.50,64.70 L658.00,64.70 L658.50,64.70 L659.00,64.70 L659.50,64.70 L660.00,64.70 L660.50,64.70 L661.00,64.70 L661.50,64.70 L662.00,64.70 L662.50,64.70 L663.00,64.70 L663.50,64.70 L664.00,64.70 L664.50,64.70 L665.00,64.70 L665.50,64.70 L666.00,64.70 L666.50,64.70 L667.00,64.70 L667.50,64.70 L668.00,64.70 L668.50,64.70 L669.00,64.70 L669.50,64.70 L670.00,64.70 L670.50,64.70 L671.00,64.70 L671.50,64.70 L672.00,64.70 L672.50,64.70 L673.00,64.70 L673.50,64.70 L674.00,64.70 L674.50,64.70 L675.00,64.70 L675.50,64.70 L676.00,64.70 L676.50,64.70 L677.00,64.70 L677.50,64.70 L678.00,64.70 L678.50,64.70 L679.00,64.70 L679.50,64.70 L680.00,64.70 L680.50,64.70 L681.00,64.70 L681.50,64.70 L682.00,64.70 L682.50,64.70 L683.00,64.70 L683.50,64.70 L684.00,64.70 L684.50,64.70 L685.00,64.70 L685.50,64.70 L686.00,64.70 L686.50,64.70 L687.00,64.70 L687.50,64.70 L688.00,64.70 L688.50,64.70 L689.00,64.70 L689.50,64.70 L690.00,64.70 L690.50,64.70 L691.00,64.70 L691.50,64.70 L692.00,64.70 L692.50,64.70 L693.00,64.70 L693.50,64.70 L694.00,64.70 L694.50,64.70 L695.00,64.70 L695.50,64.70 L696.00,64.70 L696.50,64.70 L697.00,64.70 L697.50,64.70 L698.00,64.70 L698.50,64.70 L699.00,64.70 L699.50,64.70 L700.00,64.70 L700.50,64.70 L701.00,64.70 L701.50,64.70 L702.00,64.70 L702.50,64.70 L703.00,64.70 L703.50,64.70 L704.00,64.70 L704.50,64.70 L705.00,64.70 L705.50,64.70 L706.00,64.70 L706.50,64.70 L707.00,64.70 L707.50,64.70 L708.00,64.70 L708.50,64.70 L709.00,64.70 L709.50,64.70 L710.00,64.70 L710.50,64.70 L711.00,64.70 L711.50,64.70 L712.00,64.70 L712.50,64.70 L713.00,64.70 L713.50,64.70 L714.00,64.70 L714.50,64.70 L715.00,64.70 L715.50,64.70 L716.00,64.70 L716.50,64.69 L717.00,64.69 L717.50,64.69 L718.00,64.69 L718.50,64.69 L719.00,64.69 L719.50,64.69 L720.00,64.69 L720.50,64.69 L721.00,64.69 L721.50,64.69 L722.00,64.69 L722.50,64.69 L723.00,64.69 L723.50,64.69 L724.00,64.69 L724.50,64.69 L725.00,64.69 L725.50,64.69 L726.00,64.69 L726.50,64.69 L727.00,64.69 L727.50,64.69 L728.00,64.69 L728.50,64.69 L729.00,64.68 L729.50,64.68 L730.00,64.68 L730.50,64.68 L731.00,64.68 L731.50,64.68 L732.00,64.68 L732.50,64.68 L733.00,64.68 L733.50,64.68 L734.00,64.68 L734.50,64.68 L735.00,64.68 L735.50,64.68 L736.00,64.68 L736.50,64.68 L737.00,64.68 L737.50,64.67 L738.00,64.67 L738.50,64.67 L739.00,64.67 L739.50,64.67 L740.00,64.67 L740.50,64.67 L741.00,64.67 L741.50,64.67 L742.00,64.67 L742.50,64.67 L743.00,64.67 L743.50,64.67 L744.00,64.67 L744.50,64.67 L745.00,64.66 L745.50,64.66 L746.00,64.66 L746.50,64.66 L747.00,64.66 L747.50,64.66 L748.00,64.66 L748.50,64.66 L749.00,64.66 L749.50,64.66 L750.00,64.66 L750.50,64.66 L751.00,64.65 L751.50,64.65 L752.00,64.65 L752.50,64.65 L753.00,64.65 L753.50,64.65 L754.00,64.65 L754.50,64.65 L755.00,64.65 L755.50,64.65 L756.00,64.65 L756.50,64.65 L757.00,64.64 L757.50,64.64 L758.00,64.64 L758.50,64.64 L759.00,64.64 L759.50,64.64 L760.00,64.64 L760.50,64.64 L761.00,64.64 L761.50,64.64 L762.00,64.64 L762.50,64.63 L763.00,64.63 L763.50,64.63 L764.00,64.63 L764.50,64.63 L765.00,64.63 L765.50,64.63 L766.00,64.63 L766.50,64.63 L767.00,64.63 L767.50,64.62 L768.00,64.62 L768.50,64.62 L769.00,64.62 L769.50,64.62 L770.00,64.62 L770.50,64.62 L771.00,64.62 L771.50,64.62 L772.00,64.61 L772.50,64.61 L773.00,64.61 L773.50,64.61 L774.00,64.61 L774.50,64.61 L775.00,64.61 L775.50,64.61 L776.00,64.61 L776.50,64.60 L777.00,64.60 L777.50,64.60 L778.00,64.60 L778.50,64.60 L779.00,64.60 L779.50,64.60 L780.00,64.60 L780.50,64.60 L781.00,64.59 L781.50,64.59 L782.00,64.59 L782.50,64.59 L783.00,64.59 L783.50,64.59 L784.00,64.59 L784.50,64.59 L785.00,64.58 L785.50,64.58 L786.00,64.58 L786.50,64.58 L787.00,64.58 L787.50,64.58 L788.00,64.58 L788.50,64.58 L789.00,64.57 L789.50,64.57 L790.00,64.57 L790.50,64.57 L791.00,64.57 L791.50,64.57 L792.00,64.57 L792.50,64.57 L793.00,64.56 L793.50,64.56 L794.00,64.56 L794.50,64.56 L795.00,64.56 L795.50,64.56 L796.00,64.56 L796.50,64.56 L797.00,64.55 L797.50,64.55 L798.00,64.55 L798.50,64.55 L799.00,64.55 L799.50,64.55 L800.00,64.55 L800.50,64.55 L801.00,64.54 L801.50,64.54 L802.00,64.54 L802.50,64.54 L803.00,64.54 L803.50,64.54 L804.00,64.54 L804.50,64.53 L805.00,64.53 L805.50,64.53 L806.00,64.53 L806.50,64.53 L807.00,64.53 L807.50,64.53 L808.00,64.52 L808.50,64.52 L809.00,64.52 L809.50,64.52 L810.00,64.52 L810.50,64.52 L811.00,64.52 L811.50,64.51 L812.00,64.51 L812.50,64.51 L813.00,64.51 L813.50,64.51 L814.00,64.51 L814.50,64.51 L815.00,64.50 L815.50,64.50 L816.00,64.50 L816.50,64.50 L817.00,64.50 L817.50,64.50 L818.00,64.50 L818.50,64.49 L819.00,64.49 L819.50,64.49 L820.00,64.49 L820.50,64.49 L821.00,64.49 L821.50,64.49 L822.00,64.48 L822.50,64.48 L823.00,64.48 L823.50,64.48 L824.00,64.48 L824.50,64.48 L825.00,64.48 L825.50,64.47 L826.00,64.47 L826.50,64.47 L827.00,64.47 L827.50,64.47 L828.00,64.47 L828.50,64.47 L829.00,64.46 L829.50,64.46 L830.00,64.46 L830.50,64.46 L831.00,64.46 L831.50,64.46 L832.00,64.45 L832.50,64.45 L833.00,64.45 L833.50,64.45 L834.00,64.45 L834.50,64.45 L835.00,64.45 L835.50,64.44 L836.00,64.44 L836.50,64.44 L837.00,64.44 L837.50,64.44 L838.00,64.44 L838.50,64.44 L839.00,64.43 L839.50,64.43 L840.00,64.43 L840.50,64.43 L841.00,64.43 L841.50,64.43 L842.00,64.42 L842.50,64.42 L843.00,64.42 L843.50,64.42 L844.00,64.42 L844.50,64.42 L845.00,64.42 L845.50,64.41 L846.00,64.41 L846.50,64.41 L847.00,64.41 L847.50,64.41 L848.00,64.41 L848.50,64.40 L849.00,64.40 L849.50,64.40 L850.00,64.40 L850.50,64.40 L851.00,64.40 L851.50,64.40 L852.00,64.39 L852.50,64.39 L853.00,64.39 L853.50,64.39 L854.00,64.39 L854.50,64.39 L855.00,64.38 L855.50,64.38 L856.00,64.38 L856.50,64.38 L857.00,64.38 L857.50,64.37 L858.00,64.37 L858.50,64.37 L859.00,64.37 L859.50,64.37 L860.00,64.37 L860.50,64.36 L861.00,64.36 L861.50,64.36 L862.00,64.36 L862.50,64.36 L863.00,64.35 L863.50,64.35 L864.00,64.35 L864.50,64.35 L865.00,64.35 L865.50,64.34 L866.00,64.34 L866.50,64.34 L867.00,64.34 L867.50,64.33 L868.00,64.33 L868.50,64.33 L869.00,64.33 L869.50,64.33 L870.00,64.32 L870.50,64.32 L871.00,64.32 L871.50,64.32 L872.00,64.31 L872.50,64.31 L873.00,64.31 L873.50,64.31 L874.00,64.30 L874.50,64.30 L875.00,64.30 L875.50,64.30 L876.00,64.29 L876.50,64.29 L877.00,64.29 L877.50,64.29 L878.00,64.28 L878.50,64.28 L879.00,64.28 L879.50,64.28 L880.00,64.27 L880.50,64.27 L881.00,64.27 L881.50,64.27 L882.00,64.26 L882.50,64.26 L883.00,64.26 L883.50,64.26 L884.00,64.25 L884.50,64.25 L885.00,64.25 L885.50,64.25 L886.00,64.24 L886.50,64.24 L887.00,64.24 L887.50,64.23 L888.00,64.23 L888.50,64.23 L889.00,64.23 L889.50,64.22 L890.00,64.22 L890.50,64.22 L891.00,64.21 L891.50,64.21 L892.00,64.21 L892.50,64.21 L893.00,64.20 L893.50,64.20 L894.00,64.20 L894.50,64.19 L895.00,64.19 L895.50,64.19 L896.00,64.18 L896.50,64.18 L897.00,64.18 L897.50,64.18 L898.00,64.17 L898.50,64.17 L899.00,64.17 L899.50,64.16 L900.00,64.16 L900.50,64.16 L901.00,64.15 L901.50,64.15 L902.00,64.15 L902.50,64.14 L903.00,64.14 L903.50,64.14 L904.00,64.14 L904.50,64.13 L905.00,64.13 L905.50,64.13 L906.00,64.12 L906.50,64.12 L907.00,64.12 L907.50,64.11 L908.00,64.11 L908.50,64.11 L909.00,64.10 L909.50,64.10 L910.00,64.10 L910.50,64.09 L911.00,64.09 L911.50,64.09 L912.00,64.08 L912.50,64.08 L913.00,64.08 L913.50,64.07 L914.00,64.07 L914.50,64.07 L915.00,64.06 L915.50,64.06 L916.00,64.06 L916.50,64.05 L917.00,64.05 L917.50,64.05 L918.00,64.04 L918.50,64.04 L919.00,64.04 L919.50,64.03 L920.00,64.03 L920.50,64.03 L921.00,64.02 L921.50,64.02 L922.00,64.01 L922.50,64.01 L923.00,64.01 L923.50,64.00 L924.00,64.00 L924.50,64.00 L925.00,63.99 L925.50,63.99 L926.00,63.99 L926.50,63.98 L927.00,63.98 L927.50,63.98 L928.00,63.97 L928.50,63.97 L929.00,63.97 L929.50,63.96 L930.00,63.96 L930.50,63.95 L931.00,63.95 L931.50,63.95 L932.00,63.94 L932.50,63.94 L933.00,63.94 L933.50,63.93 L934.00,63.93 L934.50,63.93 L935.00,63.92 L935.50,63.92 L936.00,63.91 L936.50,63.91 L937.00,63.91 L937.50,63.90 L938.00,63.90 L938.50,63.90 L939.00,63.89 L939.50,63.89 L940.00,63.89 L940.50,63.88 L941.00,63.88 L941.50,63.87 L942.00,63.87 L942.50,63.87 L943.00,63.86 L943.50,63.86 L944.00,63.86 L944.50,63.85 L945.00,63.85 L945.50,63.84 L946.00,63.84 L946.50,63.84 L947.00,63.83 L947.50,63.83 L948.00,63.83 L948.50,63.82 L949.00,63.82 L949.50,63.81 L950.00,63.81 L950.50,63.81 L951.00,63.80 L951.50,63.80" stroke="#22a0e2" stroke-width="6" fill="none" stroke-linejoin="round" stroke-dasharray="25.8 5.7 13 5.7"/>
<path d="M138.50,646.50 L139.00,646.50 L139.50,646.50 L140.00,646.50 L140.50,646.50 L141.00,646.50 L141.50,646.50 L142.00,646.50 L142.50,646.49 L143.00,646.49 L143.50,646.49 L144.00,646.49 L144.50,646.49 L145.00,646.49 L145.50,646.49 L146.00,646.49 L146.50,646.49 L147.00,646.49 L147.50,646.49 L148.00,646.49 L148.50,646.49 L149.00,646.48 L149.50,646.48 L150.00,646.48 L150.50,646.48 L151.00,646.48 L151.50,646.48 L152.00,646.48 L152.50,646.48 L153.00,646.48 L153.50,646.48 L154.00,646.48 L154.50,646.48 L155.00,646.47 L155.50,646.47 L156.00,646.47 L156.50,646.47 L157.00,646.47 L157.50,646.47 L158.00,646.47 L158.50,646.47 L159.00,646.47 L159.50,646.47 L160.00,646.47 L160.50,646.46 L161.00,646.46 L161.50,646.46 L162.00,646.46 L162.50,646.46 L163.00,646.46 L163.50,646.46 L164.00,646.46 L164.50,646.46 L165.00,646.46 L165.50,646.45 L166.00,646.45 L166.50,646.45 L167.00,646.45 L167.50,646.45 L168.00,646.45 L168.50,646.45 L169.00,646.45 L169.50,646.45 L170.00,646.44 L170.50,646.44 L171.00,646.44 L171.50,646.44 L172.00,646.44 L172.50,646.44 L173.00,646.44 L173.50,646.44 L174.00,646.44 L174.50,646.43 L175.00,646.43 L175.50,646.43 L176.00,646.43 L176.50,646.43 L177.00,646.43 L177.50,646.43 L178.00,646.43 L178.50,646.42 L179.00,646.42 L179.50,646.42 L180.00,646.42 L180.50,646.42 L181.00,646.42 L181.50,646.42 L182.00,646.42 L182.50,646.41 L183.00,646.41 L183.50,646.41 L184.00,646.41 L184.50,646.41 L185.00,646.41 L185.50,646.41 L186.00,646.41 L186.50,646.40 L187.00,646.40 L187.50,646.40 L188.00,646.40 L188.50,646.40 L189.00,646.40 L189.50,646.40 L190.00,646.39 L190.50,646.39 L191.00,646.39 L191.50,646.39 L192.00,646.39 L192.50,646.39 L193.00,646.39 L193.50,646.39 L194.00,646.38 L194.50,646.38 L195.00,646.38 L195.50,646.38 L196.00,646.38 L196.50,646.38 L197.00,646.38 L197.50,646.37 L198.00,646.37 L198.50,646.37 L199.00,646.37 L199.50,646.37 L200.00,646.37 L200.50,646.37 L201.00,646.36 L201.50,646.36 L202.00,646.36 L202.50,646.36 L203.00,646.36 L203.50,646.36 L204.00,646.35 L204.50,646.35 L205.00,646.35 L205.50,646.35 L206.00,646.35 L206.50,646.35 L207.00,646.35 L207.50,646.34 L208.00,646.34 L208.50,646.34 L209.00,646.34 L209.50,646.34 L210.00,646.34 L210.50,646.33 L211.00,646.33 L211.50,646.33 L212.00,646.33 L212.50,646.33 L213.00,646.33 L213.50,646.33 L214.00,646.32 L214.50,646.32 L215.00,646.32 L215.50,646.32 L216.00,646.32 L216.50,646.32 L217.00,646.31 L217.50,646.31 L218.00,646.31 L218.50,646.31 L219.00,646.31 L219.50,646.31 L220.00,646.30 L220.50,646.30 L221.00,646.30 L221.50,646.30 L222.00,646.30 L222.50,646.30 L223.00,646.29 L223.50,646.29 L224.00,646.29 L224.50,646.29 L225.00,646.29 L225.50,646.29 L226.00,646.28 L226.50,646.28 L227.00,646.28 L227.50,646.28 L228.00,646.28 L228.50,646.28 L229.00,646.27 L229.50,646.27 L230.00,646.27 L230.50,646.27 L231.00,646.27 L231.50,646.27 L232.00,646.26 L232.50,646.26 L233.00,646.26 L233.50,646.26 L234.00,646.26 L234.50,646.26 L235.00,646.25 L235.50,646.25 L236.00,646.25 L236.50,646.25 L237.00,646.25 L237.50,646.24 L238.00,646.24 L238.50,646.24 L239.00,646.24 L239.50,646.24 L240.00,646.24 L240.50,646.23 L241.00,646.23 L241.50,646.23 L242.00,646.23 L242.50,646.23 L243.00,646.23 L243.50,646.22 L244.00,646.22 L244.50,646.22 L245.00,646.22 L245.50,646.22 L246.00,646.21 L246.50,646.21 L247.00,646.21 L247.50,646.21 L248.00,646.21 L248.50,646.21 L249.00,646.20 L249.50,646.20 L250.00,646.20 L250.50,646.20 L251.00,646.20 L251.50,646.19 L252.00,646.19 L252.50,646.19 L253.00,646.19 L253.50,646.19 L254.00,646.19 L254.50,646.18 L255.00,646.18 L255.50,646.18 L256.00,646.18 L256.50,646.18 L257.00,646.17 L257.50,646.17 L258.00,646.17 L258.50,646.17 L259.00,646.17 L259.50,646.16 L260.00,646.16 L260.50,646.16 L261.00,646.16 L261.50,646.16 L262.00,646.15 L262.50,646.15 L263.00,646.15 L263.50,646.15 L264.00,646.15 L264.50,646.14 L265.00,646.14 L265.50,646.14 L266.00,646.14 L266.50,646.13 L267.00,646.13 L267.50,646.13 L268.00,646.13 L268.50,646.13 L269.00,646.12 L269.50,646.12 L270.00,646.12 L270.50,646.12 L271.00,646.11 L271.50,646.11 L272.00,646.11 L272.50,646.11 L273.00,646.11 L273.50,646.10 L274.00,646.10 L274.50,646.10 L275.00,646.10 L275.50,646.09 L276.00,646.09 L276.50,646.09 L277.00,646.09 L277.50,646.08 L278.00,646.08 L278.50,646.08 L279.00,646.08 L279.50,646.08 L280.00,646.07 L280.50,646.07 L281.00,646.07 L281.50,646.07 L282.00,646.06 L282.50,646.06 L283.00,646.06 L283.50,646.06 L284.00,646.05 L284.50,646.05 L285.00,646.05 L285.50,646.05 L286.00,646.04 L286.50,646.04 L287.00,646.04 L287.50,646.04 L288.00,646.03 L288.50,646.03 L289.00,646.03 L289.50,646.03 L290.00,646.02 L290.50,646.02 L291.00,646.02 L291.50,646.02 L292.00,646.01 L292.50,646.01 L293.00,646.01 L293.50,646.01 L294.00,646.00 L294.50,646.00 L295.00,646.00 L295.50,645.99 L296.00,645.99 L296.50,645.99 L297.00,645.99 L297.50,645.98 L298.00,645.98 L298.50,645.98 L299.00,645.98 L299.50,645.97 L300.00,645.97 L300.50,645.97 L301.00,645.96 L301.50,645.96 L302.00,645.96 L302.50,645.96 L303.00,645.95 L303.50,645.95 L304.00,645.95 L304.50,645.95 L305.00,645.94 L305.50,645.94 L306.00,645.94 L306.50,645.93 L307.00,645.93 L307.50,645.93 L308.00,645.93 L308.50,645.92 L309.00,645.92 L309.50,645.92 L310.00,645.91 L310.50,645.91 L311.00,645.91 L311.50,645.91 L312.00,645.90 L312.50,645.90 L313.00,645.90 L313.50,645.89 L314.00,645.89 L314.50,645.89 L315.00,645.89 L315.50,645.88 L316.00,645.88 L316.50,645.88 L317.00,645.87 L317.50,645.87 L318.00,645.87 L318.50,645.86 L319.00,645.86 L319.50,645.86 L320.00,645.86 L320.50,645.85 L321.00,645.85 L321.50,645.85 L322.00,645.84 L322.50,645.84 L323.00,645.84 L323.50,645.83 L324.00,645.83 L324.50,645.83 L325.00,645.82 L325.50,645.82 L326.00,645.82 L326.50,645.82 L327.00,645.81 L327.50,645.81 L328.00,645.81 L328.50,645.80 L329.00,645.80 L329.50,645.80 L330.00,645.79 L330.50,645.79 L331.00,645.79 L331.50,645.78 L332.00,645.78 L332.50,645.78 L333.00,645.77 L333.50,645.77 L334.00,645.77 L334.50,645.76 L335.00,645.76 L335.50,645.76 L336.00,645.76 L336.50,645.75 L337.00,645.75 L337.50,645.75 L338.00,645.74 L338.50,645.74 L339.00,645.74 L339.50,645.73 L340.00,645.73 L340.50,645.73 L341.00,645.72 L341.50,645.72 L342.00,645.72 L342.50,645.71 L343.00,645.71 L343.50,645.71 L344.00,645.70 L344.50,645.70 L345.00,645.70 L345.50,645.69 L346.00,645.69 L346.50,645.69 L347.00,645.68 L347.50,645.68 L348.00,645.68 L348.50,645.67 L349.00,645.67 L349.50,645.67 L350.00,645.66 L350.50,645.66 L351.00,645.66 L351.50,645.65 L352.00,645.65 L352.50,645.65 L353.00,645.64 L353.50,645.64 L354.00,645.63 L354.50,645.63 L355.00,645.63 L355.50,645.62 L356.00,645.62 L356.50,645.62 L357.00,645.61 L357.50,645.61 L358.00,645.61 L358.50,645.60 L359.00,645.60 L359.50,645.60 L360.00,645.59 L360.50,645.59 L361.00,645.59 L361.50,645.58 L362.00,645.58 L362.50,645.58 L363.00,645.57 L363.50,645.57 L364.00,645.57 L364.50,645.56 L365.00,645.56 L365.50,645.55 L366.00,645.55 L366.50,645.55 L367.00,645.54 L367.50,645.54 L368.00,645.54 L368.50,645.53 L369.00,645.53 L369.50,645.53 L370.00,645.52 L370.50,645.52 L371.00,645.52 L371.50,645.51 L372.00,645.51 L372.50,645.50 L373.00,645.50 L373.50,645.50 L374.00,645.49 L374.50,645.49 L375.00,645.49 L375.50,645.48 L376.00,645.48 L376.50,645.48 L377.00,645.47 L377.50,645.47 L378.00,645.46 L378.50,645.46 L379.00,645.46 L379.50,645.45 L380.00,645.45 L380.50,645.45 L381.00,645.44 L381.50,645.44 L382.00,645.44 L382.50,645.43 L383.00,645.43 L383.50,645.42 L384.00,645.42 L384.50,645.42 L385.00,645.41 L385.50,645.41 L386.00,645.41 L386.50,645.40 L387.00,645.40 L387.50,645.39 L388.00,645.39 L388.50,645.39 L389.00,645.38 L389.50,645.38 L390.00,645.38 L390.50,645.37 L391.00,645.37 L391.50,645.36 L392.00,645.36 L392.50,645.36 L393.00,645.35 L393.50,645.35 L394.00,645.35 L394.50,645.34 L395.00,645.34 L395.50,645.33 L396.00,645.33 L396.50,645.33 L397.00,645.32 L397.50,645.32 L398.00,645.32 L398.50,645.31 L399.00,645.31 L399.50,645.30 L400.00,645.30 L400.50,645.30 L401.00,645.29 L401.50,645.29 L402.00,645.28 L402.50,645.28 L403.00,645.28 L403.50,645.27 L404.00,645.27 L404.50,645.27 L405.00,645.26 L405.50,645.26 L406.00,645.25 L406.50,645.25 L407.00,645.25 L407.50,645.24 L408.00,645.24 L408.50,645.23 L409.00,645.23 L409.50,645.23 L410.00,645.22 L410.50,645.22 L411.00,645.21 L411.50,645.21 L412.00,645.21 L412.50,645.20 L413.00,645.20 L413.50,645.19 L414.00,645.19 L414.50,645.19 L415.00,645.18 L415.50,645.18 L416.00,645.17 L416.50,645.17 L417.00,645.17 L417.50,645.16 L418.00,645.16 L418.50,645.15 L419.00,645.15 L419.50,645.14 L420.00,645.14 L420.50,645.14 L421.00,645.13 L421.50,645.13 L422.00,645.12 L422.50,645.12 L423.00,645.12 L423.50,645.11 L424.00,645.11 L424.50,645.10 L425.00,645.10 L425.50,645.09 L426.00,645.09 L426.50,645.09 L427.00,645.08 L427.50,645.08 L428.00,645.07 L428.50,645.07 L429.00,645.06 L429.50,645.06 L430.00,645.06 L430.50,645.05 L431.00,645.05 L431.50,645.04 L432.00,645.04 L432.50,645.03 L433.00,645.03 L433.50,645.02 L434.00,645.02 L434.50,645.02 L435.00,645.01 L435.50,645.01 L436.00,645.00 L436.50,645.00 L437.00,644.99 L437.50,644.99 L438.00,644.98 L438.50,644.98 L439.00,644.97 L439.50,644.97 L440.00,644.97 L440.50,644.96 L441.00,644.96 L441.50,644.95 L442.00,644.95 L442.50,644.94 L443.00,644.94 L443.50,644.93 L444.00,644.93 L444.50,644.92 L445.00,644.92 L445.50,644.91 L446.00,644.91 L446.50,644.90 L447.00,644.90 L447.50,644.89 L448.00,644.89 L448.50,644.89 L449.00,644.88 L449.50,644.88 L450.00,644.87 L450.50,644.87 L451.00,644.86 L451.50,644.86 L452.00,644.85 L452.50,644.85 L453.00,644.84 L453.50,644.84 L454.00,644.83 L454.50,644.83 L455.00,644.82 L455.50,644.82 L456.00,644.81 L456.50,644.81 L457.00,644.80 L457.50,644.80 L458.00,644.79 L458.50,644.79 L459.00,644.78 L459.50,644.77 L460.00,644.77 L460.50,644.76 L461.00,644.76 L461.50,644.75 L462.00,644.75 L462.50,644.74 L463.00,644.74 L463.50,644.73 L464.00,644.73 L464.50,644.72 L465.00,644.72 L465.50,644.71 L466.00,644.71 L466.50,644.70 L467.00,644.70 L467.50,644.69 L468.00,644.68 L468.50,644.68 L469.00,644.67 L469.50,644.67 L470.00,644.66 L470.50,644.66 L471.00,644.65 L471.50,644.65 L472.00,644.64 L472.50,644.64 L473.00,644.63 L473.50,644.62 L474.00,644.62 L474.50,644.61 L475.00,644.61 L475.50,644.60 L476.00,644.60 L476.50,644.59 L477.00,644.58 L477.50,644.58 L478.00,644.57 L478.50,644.57 L479.00,644.56 L479.50,644.56 L480.00,644.55 L480.50,644.54 L481.00,644.54 L481.50,644.53 L482.00,644.53 L482.50,644.52 L483.00,644.51 L483.50,644.51 L484.00,644.50 L484.50,644.50 L485.00,644.49 L485.50,644.48 L486.00,644.48 L486.50,644.47 L487.00,644.47 L487.50,644.46 L488.00,644.45 L488.50,644.45 L489.00,644.44 L489.50,644.43 L490.00,644.43 L490.50,644.42 L491.00,644.42 L491.50,644.41 L492.00,644.40 L492.50,644.40 L493.00,644.39 L493.50,644.38 L494.00,644.38 L494.50,644.37 L495.00,644.37 L495.50,644.36 L496.00,644.35 L496.50,644.35 L497.00,644.34 L497.50,644.33 L498.00,644.33 L498.50,644.32 L499.00,644.31 L499.50,644.31 L500.00,644.30 L500.50,644.29 L501.00,644.29 L501.50,644.28 L502.00,644.27 L502.50,644.27 L503.00,644.26 L503.50,644.25 L504.00,644.25 L504.50,644.24 L505.00,644.23 L505.50,644.23 L506.00,644.22 L506.50,644.21 L507.00,644.20 L507.50,644.20 L508.00,644.19 L508.50,644.18 L509.00,644.18 L509.50,644.17 L510.00,644.16 L510.50,644.15 L511.00,644.15 L511.50,644.14 L512.00,644.13 L512.50,644.13 L513.00,644.12 L513.50,644.11 L514.00,644.10 L514.50,644.10 L515.00,644.09 L515.50,644.08 L516.00,644.07 L516.50,644.06 L517.00,644.06 L517.50,644.05 L518.00,644.04 L518.50,644.03 L519.00,644.03 L519.50,644.02 L520.00,644.01 L520.50,644.00 L521.00,643.99 L521.50,643.99 L522.00,643.98 L522.50,643.97 L523.00,643.96 L523.50,643.95 L524.00,643.94 L524.50,643.94 L525.00,643.93 L525.50,643.92 L526.00,643.91 L526.50,643.90 L527.00,643.89 L527.50,643.88 L528.00,643.88 L528.50,643.87 L529.00,643.86 L529.50,643.85 L530.00,643.84 L530.50,643.83 L531.00,643.82 L531.50,643.81 L532.00,643.80 L532.50,643.80 L533.00,643.79 L533.50,643.78 L534.00,643.77 L534.50,643.76 L535.00,643.75 L535.50,643.74 L536.00,643.73 L536.50,643.72 L537.00,643.71 L537.50,643.70 L538.00,643.69 L538.50,643.68 L539.00,643.67 L539.50,643.66 L540.00,643.65 L540.50,643.64 L541.00,643.63 L541.50,643.62 L542.00,643.61 L542.50,643.60 L543.00,643.59 L543.50,643.58 L544.00,643.57 L544.50,643.56 L545.00,643.55 L545.50,643.54 L546.00,643.53 L546.50,643.52 L547.00,643.51 L547.50,643.49 L548.00,643.48 L548.50,643.47 L549.00,643.46 L549.50,643.45 L550.00,643.44 L550.50,643.43 L551.00,643.42 L551.50,643.41 L552.00,643.39 L552.50,643.38 L553.00,643.37 L553.50,643.36 L554.00,643.35 L554.50,643.34 L555.00,643.32 L555.50,643.31 L556.00,643.30 L556.50,643.29 L557.00,643.27 L557.50,643.26 L558.00,643.25 L558.50,643.24 L559.00,643.23 L559.50,643.21 L560.00,643.20 L560.50,643.19 L561.00,643.17 L561.50,643.16 L562.00,643.15 L562.50,643.14 L563.00,643.12 L563.50,643.11 L564.00,643.10 L564.50,643.08 L565.00,643.07 L565.50,643.06 L566.00,643.04 L566.50,643.03 L567.00,643.01 L567.50,643.00 L568.00,642.98 L568.50,642.97 L569.00,642.95 L569.50,642.94 L570.00,642.92 L570.50,642.90 L571.00,642.89 L571.50,642.87 L572.00,642.85 L572.50,642.83 L573.00,642.81 L573.50,642.80 L574.00,642.78 L574.50,642.76 L575.00,642.74 L575.50,642.71 L576.00,642.69 L576.50,642.67 L577.00,642.65 L577.50,642.62 L578.00,642.60 L578.50,642.58 L579.00,642.55 L579.50,642.53 L580.00,642.50 L580.50,642.47 L581.00,642.45 L581.50,642.42 L582.00,642.39 L582.50,642.36 L583.00,642.32 L583.50,642.28 L584.00,642.24 L584.50,642.19 L585.00,642.13 L585.50,642.07 L586.00,642.00 L586.50,641.90 L587.00,641.74 L587.50,641.54 L588.00,641.29 L588.50,641.02 L589.00,640.72 L589.50,640.40 L590.00,640.02 L590.50,639.54 L590.75,639.27 L591.00,638.99 L591.25,638.69 L591.50,638.38 L591.75,638.06 L592.00,637.73 L592.25,637.40 L592.50,637.06 L592.75,636.73 L593.00,636.40 L593.25,636.06 L593.50,635.72 L593.75,635.36 L594.00,634.99 L594.25,634.61 L594.50,634.22 L594.75,633.82 L595.00,633.43 L595.25,633.02 L595.50,632.62 L595.75,632.21 L596.00,631.81 L596.25,631.40 L596.50,631.00 L596.75,630.60 L597.00,630.20 L597.25,629.80 L597.50,629.39 L597.75,628.99 L598.00,628.58 L598.25,628.17 L598.50,627.75 L598.75,627.34 L599.00,626.92 L599.25,626.49 L599.50,626.07 L599.75,625.64 L600.00,625.20 L600.25,624.76 L600.50,624.32 L600.75,623.87 L601.00,623.43 L601.25,622.97 L601.50,622.52 L601.75,622.06 L602.00,621.59 L602.25,621.13 L602.50,620.65 L602.75,620.17 L603.00,619.69 L603.25,619.20 L603.50,618.70 L603.75,618.20 L604.00,617.70 L604.25,617.19 L604.50,616.68 L604.75,616.17 L605.00,615.65 L605.25,615.12 L605.50,614.59 L605.75,614.05 L606.00,613.50 L606.25,612.95 L606.50,612.38 L606.75,611.80 L607.00,611.21 L607.25,610.61 L607.50,610.00 L607.75,609.36 L608.00,608.68 L608.25,607.98 L608.50,607.27 L608.75,606.56 L609.00,605.85 L609.25,605.13 L609.50,604.41 L609.75,603.69 L610.00,602.97 L610.25,602.26 L610.50,601.54 L610.75,600.83 L611.00,600.11 L611.25,599.40 L611.50,598.68 L611.75,597.97 L612.00,597.26 L612.25,596.54 L612.50,595.83 L612.75,595.12 L613.00,594.41 L613.25,593.69 L613.50,592.98 L613.75,592.27 L614.00,591.56 L614.25,590.85 L614.50,590.14 L614.75,589.43 L615.00,588.73 L615.25,588.02 L615.50,587.31 L615.75,586.60 L616.00,585.89 L616.25,585.19 L616.50,584.48 L616.75,583.78 L617.00,583.07 L617.25,582.36 L617.50,581.66 L617.75,580.95 L618.00,580.25 L618.25,579.55 L618.50,578.84 L618.75,578.14 L619.00,577.44 L619.25,576.74 L619.50,576.03 L619.75,575.33 L620.00,574.63 L620.25,573.93 L620.50,573.23 L620.75,572.53 L621.00,571.83 L621.25,571.13 L621.50,570.43 L621.75,569.73 L622.00,569.03 L622.25,568.33 L622.50,567.64 L622.75,566.94 L623.00,566.24 L623.25,565.55 L623.50,564.85 L623.75,564.15 L624.00,563.46 L624.25,562.76 L624.50,562.07 L624.75,561.37 L625.00,560.68 L625.25,559.99 L625.50,559.29 L625.75,558.60 L626.00,557.91 L626.25,557.21 L626.50,556.52 L626.75,555.83 L627.00,555.14 L627.25,554.45 L627.50,553.76 L627.75,553.06 L628.00,552.37 L628.25,551.68 L628.50,551.00 L628.75,550.31 L629.00,549.62 L629.25,548.93 L629.50,548.24 L629.75,547.55 L630.00,546.86 L630.25,546.18 L630.50,545.49 L630.75,544.80 L631.00,544.12 L631.25,543.43 L631.50,542.75 L631.75,542.06 L632.00,541.38 L632.25,540.69 L632.50,540.01 L632.75,539.32 L633.00,538.64 L633.25,537.96 L633.50,537.27 L633.75,536.59 L634.00,535.91 L634.25,535.22 L634.50,534.54 L634.75,533.86 L635.00,533.18 L635.25,532.50 L635.50,531.82 L635.75,531.14 L636.00,530.46 L636.25,529.78 L636.50,529.10 L636.75,528.42 L637.00,527.74 L637.25,527.06 L637.50,526.38 L637.75,525.71 L638.00,525.03 L638.25,524.35 L638.50,523.67 L638.75,523.00 L639.00,522.32 L639.25,521.64 L639.50,520.97 L639.75,520.29 L640.00,519.62 L640.25,518.94 L640.50,518.27 L640.75,517.59 L641.00,516.92 L641.25,516.25 L641.50,515.57 L641.75,514.90 L642.00,514.23 L642.25,513.55 L642.50,512.88 L642.75,512.21 L643.00,511.54 L643.25,510.87 L643.50,510.19 L643.75,509.52 L644.00,508.85 L644.25,508.18 L644.50,507.51 L644.75,506.84 L645.00,506.17 L645.25,505.50 L645.50,504.83 L645.75,504.16 L646.00,503.50 L646.25,502.83 L646.50,502.16 L646.75,501.49 L647.00,500.82 L647.25,500.16 L647.50,499.49 L647.75,498.82 L648.00,498.16 L648.25,497.49 L648.50,496.83 L648.75,496.16 L649.00,495.49 L649.25,494.83 L649.50,494.17 L649.75,493.50 L650.00,492.84 L650.25,492.17 L650.50,491.51 L650.75,490.85 L651.00,490.18 L651.25,489.52 L651.50,488.86 L651.75,488.19 L652.00,487.53 L652.25,486.87 L652.50,486.21 L652.75,485.55 L653.00,484.89 L653.25,484.22 L653.50,483.56 L653.75,482.90 L654.00,482.24 L654.25,481.58 L654.50,480.92 L654.75,480.26 L655.00,479.60 L655.25,478.95 L655.50,478.29 L655.75,477.63 L656.00,476.97 L656.25,476.31 L656.50,475.65 L656.75,475.00 L657.00,474.34 L657.25,473.68 L657.50,473.03 L657.75,472.37 L658.00,471.71 L658.25,471.06 L658.50,470.40 L658.75,469.75 L659.00,469.09 L659.25,468.44 L659.50,467.78 L659.75,467.13 L660.00,466.47 L660.25,465.82 L660.50,465.16 L660.75,464.51 L661.00,463.86 L661.25,463.20 L661.50,462.55 L661.75,461.90 L662.00,461.25 L662.25,460.59 L662.50,459.94 L662.75,459.29 L663.00,458.64 L663.25,457.99 L663.50,457.34 L663.75,456.68 L664.00,456.03 L664.25,455.38 L664.50,454.73 L664.75,454.08 L665.00,453.43 L665.25,452.78 L665.50,452.13 L665.75,451.48 L666.00,450.84 L666.25,450.19 L666.50,449.54 L666.75,448.89 L667.00,448.24 L667.25,447.59 L667.50,446.95 L667.75,446.30 L668.00,445.65 L668.25,445.01 L668.50,444.36 L668.75,443.71 L669.00,443.07 L669.25,442.42 L669.50,441.77 L669.75,441.13 L670.00,440.48 L670.25,439.84 L670.50,439.19 L670.75,438.55 L671.00,437.90 L671.25,437.26 L671.50,436.61 L671.75,435.97 L672.00,435.33 L672.25,434.68 L672.50,434.04 L672.75,433.40 L673.00,432.75 L673.25,432.11 L673.50,431.47 L673.75,430.82 L674.00,430.18 L674.25,429.54 L674.50,428.90 L674.75,428.26 L675.00,427.62 L675.25,426.97 L675.50,426.33 L675.75,425.69 L676.00,425.05 L676.25,424.41 L676.50,423.77 L676.75,423.13 L677.00,422.49 L677.25,421.85 L677.50,421.21 L677.75,420.57 L678.00,419.93 L678.25,419.29 L678.50,418.66 L678.75,418.02 L679.00,417.38 L679.25,416.74 L679.50,416.10 L679.75,415.47 L680.00,414.83 L680.25,414.19 L680.50,413.55 L680.75,412.92 L681.00,412.28 L681.25,411.64 L681.50,411.01 L681.75,410.37 L682.00,409.73 L682.25,409.10 L682.50,408.46 L682.75,407.83 L683.00,407.19 L683.25,406.56 L683.50,405.92 L683.75,405.29 L684.00,404.65 L684.25,404.02 L684.50,403.38 L684.75,402.75 L685.00,402.11 L685.25,401.48 L685.50,400.85 L685.75,400.21 L686.00,399.58 L686.25,398.95 L686.50,398.31 L686.75,397.68 L687.00,397.05 L687.25,396.42 L687.50,395.78 L687.75,395.15 L688.00,394.52 L688.25,393.89 L688.50,393.26 L688.75,392.63 L689.00,392.00 L689.25,391.36 L689.50,390.73 L689.75,390.10 L690.00,389.47 L690.25,388.84 L690.50,388.21 L690.75,387.58 L691.00,386.95 L691.25,386.32 L691.50,385.69 L691.75,385.06 L692.00,384.43 L692.25,383.81 L692.50,383.18 L692.75,382.55 L693.00,381.92 L693.25,381.29 L693.50,380.66 L693.75,380.03 L694.00,379.41 L694.25,378.78 L694.50,378.15 L694.75,377.52 L695.00,376.90 L695.25,376.27 L695.50,375.64 L695.75,375.02 L696.00,374.39 L696.25,373.76 L696.50,373.14 L696.75,372.51 L697.00,371.88 L697.25,371.26 L697.50,370.63 L697.75,370.01 L698.00,369.38 L698.25,368.76 L698.50,368.13 L698.75,367.51 L699.00,366.88 L699.25,366.26 L699.50,365.63 L699.75,365.01 L700.00,364.38 L700.25,363.76 L700.50,363.13 L700.75,362.51 L701.00,361.89 L701.25,361.26 L701.50,360.64 L701.75,360.02 L702.00,359.39 L702.25,358.77 L702.50,358.15 L702.75,357.53 L703.00,356.90 L703.25,356.28 L703.50,355.66 L703.75,355.04 L704.00,354.41 L704.25,353.79 L704.50,353.17 L704.75,352.55 L705.00,351.93 L705.25,351.31 L705.50,350.69 L705.75,350.07 L706.00,349.44 L706.25,348.82 L706.50,348.20 L706.75,347.58 L707.00,346.96 L707.25,346.34 L707.50,345.72 L707.75,345.10 L708.00,344.48 L708.25,343.86 L708.50,343.24 L708.75,342.62 L709.00,342.00 L709.25,341.39 L709.50,340.77 L709.75,340.15 L710.00,339.53 L710.25,338.91 L710.50,338.29 L710.75,337.67 L711.00,337.06 L711.25,336.44 L711.50,335.82 L711.75,335.20 L712.00,334.58 L712.25,333.97 L712.50,333.35 L712.75,332.73 L713.00,332.11 L713.25,331.50 L713.50,330.88 L713.75,330.26 L714.00,329.65 L714.25,329.03 L714.50,328.41 L714.75,327.80 L715.00,327.18 L715.25,326.57 L715.50,325.95 L715.75,325.33 L716.00,324.72 L716.25,324.10 L716.50,323.49 L716.75,322.87 L717.00,322.26 L717.25,321.64 L717.50,321.03 L717.75,320.41 L718.00,319.80 L718.25,319.18 L718.50,318.57 L718.75,317.95 L719.00,317.34 L719.25,316.72 L719.50,316.11 L719.75,315.50 L720.00,314.88 L720.25,314.27 L720.50,313.66 L720.75,313.04 L721.00,312.43 L721.25,311.81 L721.50,311.20 L721.75,310.59 L722.00,309.98 L722.25,309.36 L722.50,308.75 L722.75,308.14 L723.00,307.52 L723.25,306.91 L723.50,306.30 L723.75,305.69 L724.00,305.08 L724.25,304.46 L724.50,303.85 L724.75,303.24 L725.00,302.63 L725.25,302.02 L725.50,301.41 L725.75,300.79 L726.00,300.18 L726.25,299.57 L726.50,298.96 L726.75,298.35 L727.00,297.74 L727.25,297.13 L727.50,296.52 L727.75,295.91 L728.00,295.30 L728.25,294.69 L728.50,294.08 L728.75,293.47 L729.00,292.86 L729.25,292.25 L729.50,291.64 L729.75,291.03 L730.00,290.42 L730.25,289.81 L730.50,289.20 L730.75,288.59 L731.00,287.98 L731.25,287.37 L731.50,286.76 L731.75,286.15 L732.00,285.54 L732.25,284.93 L732.50,284.32 L732.75,283.72 L733.00,283.11 L733.25,282.50 L733.50,281.89 L733.75,281.28 L734.00,280.67 L734.25,280.07 L734.50,279.46 L734.75,278.85 L735.00,278.24 L735.25,277.63 L735.50,277.03 L735.75,276.42 L736.00,275.81 L736.25,275.20 L736.50,274.60 L736.75,273.99 L737.00,273.38 L737.25,272.78 L737.50,272.17 L737.75,271.56 L738.00,270.96 L738.25,270.35 L738.50,269.74 L738.75,269.14 L739.00,268.53 L739.25,267.92 L739.50,267.32 L739.75,266.71 L740.00,266.10 L740.25,265.50 L740.50,264.89 L740.75,264.29 L741.00,263.68 L741.25,263.08 L741.50,262.47 L741.75,261.86 L742.00,261.26 L742.25,260.65 L742.50,260.05 L742.75,259.44 L743.00,258.84 L743.25,258.23 L743.50,257.63 L743.75,257.02 L744.00,256.42 L744.25,255.81 L744.50,255.21 L744.75,254.60 L745.00,254.00 L745.25,253.40 L745.50,252.79 L745.75,252.19 L746.00,251.58 L746.25,250.98 L746.50,250.37 L746.75,249.77 L747.00,249.17 L747.25,248.56 L747.50,247.96 L747.75,247.35 L748.00,246.75 L748.25,246.15 L748.50,245.54 L748.75,244.94 L749.00,244.34 L749.25,243.73 L749.50,243.13 L749.75,242.53 L750.00,241.92 L750.25,241.32 L750.50,240.72 L750.75,240.12 L751.00,239.51 L751.25,238.91 L751.50,238.31 L751.75,237.70 L752.00,237.10 L752.25,236.50 L752.50,235.90 L752.75,235.30 L753.00,234.69 L753.25,234.09 L753.50,233.49 L753.75,232.89 L754.00,232.29 L754.25,231.69 L754.50,231.09 L754.75,230.49 L755.00,229.88 L755.25,229.28 L755.50,228.68 L755.75,228.08 L756.00,227.49 L756.25,226.89 L756.50,226.29 L756.75,225.69 L757.00,225.09 L757.25,224.49 L757.50,223.90 L757.75,223.30 L758.00,222.70 L758.25,222.10 L758.50,221.51 L758.75,220.91 L759.00,220.32 L759.25,219.72 L759.50,219.13 L759.75,218.53 L760.00,217.94 L760.25,217.34 L760.50,216.75 L760.75,216.16 L761.00,215.57 L761.25,214.97 L761.50,214.38 L761.75,213.79 L762.00,213.20 L762.25,212.61 L762.50,212.02 L762.75,211.43 L763.00,210.85 L763.25,210.26 L763.50,209.67 L763.75,209.08 L764.00,208.50 L764.25,207.91 L764.50,207.33 L764.75,206.74 L765.00,206.16 L765.25,205.57 L765.50,204.99 L765.75,204.41 L766.00,203.83 L766.25,203.24 L766.50,202.66 L766.75,202.08 L767.00,201.50 L767.25,200.93 L767.50,200.35 L767.75,199.77 L768.00,199.19 L768.25,198.62 L768.50,198.04 L768.75,197.47 L769.00,196.89 L769.25,196.32 L769.50,195.75 L769.75,195.18 L770.00,194.60 L770.25,194.03 L770.50,193.46 L770.75,192.89 L771.00,192.33 L771.25,191.76 L771.50,191.19 L771.75,190.63 L772.00,190.06 L772.25,189.50 L772.50,188.93 L772.75,188.37 L773.00,187.81 L773.25,187.24 L773.50,186.68 L773.75,186.12 L774.00,185.56 L774.25,185.01 L774.50,184.45 L774.75,183.89 L775.00,183.33 L775.25,182.78 L775.50,182.23 L775.75,181.67 L776.00,181.12 L776.25,180.57 L776.50,180.02 L776.75,179.47 L777.00,178.92 L777.25,178.37 L777.50,177.82 L777.75,177.27 L778.00,176.73 L778.25,176.18 L778.50,175.64 L778.75,175.09 L779.00,174.55 L779.25,174.01 L779.50,173.47 L779.75,172.93 L780.00,172.39 L780.25,171.85 L780.50,171.32 L780.75,170.78 L781.00,170.24 L781.25,169.71 L781.50,169.18 L781.75,168.64 L782.00,168.11 L782.25,167.58 L782.50,167.05 L782.75,166.52 L783.00,166.00 L783.25,165.47 L783.50,164.94 L783.75,164.42 L784.00,163.89 L784.25,163.37 L784.50,162.85 L784.75,162.33 L785.00,161.81 L785.25,161.29 L785.50,160.77 L785.75,160.25 L786.00,159.73 L786.25,159.22 L786.50,158.70 L786.75,158.19 L787.00,157.68 L787.25,157.16 L787.50,156.65 L787.75,156.14 L788.00,155.63 L788.25,155.13 L788.50,154.62 L788.75,154.11 L789.00,153.61 L789.25,153.10 L789.50,152.60 L789.75,152.10 L790.00,151.60 L790.25,151.10 L790.50,150.60 L790.75,150.10 L791.00,149.60 L791.25,149.11 L791.50,148.61 L791.75,148.12 L792.00,147.62 L792.25,147.13 L792.50,146.64 L792.75,146.15 L793.00,145.66 L793.25,145.17 L793.50,144.68 L793.75,144.20 L794.00,143.71 L794.25,143.23 L794.50,142.74 L794.75,142.26 L795.00,141.78 L795.25,141.30 L795.50,140.82 L795.75,140.34 L796.00,139.86 L796.25,139.39 L796.50,138.91 L796.75,138.44 L797.00,137.96 L797.25,137.49 L797.50,137.02 L797.75,136.55 L798.00,136.08 L798.25,135.61 L798.50,135.14 L798.75,134.68 L799.00,134.21 L799.25,133.75 L799.50,133.28 L799.75,132.82 L800.00,132.36 L800.25,131.90 L800.50,131.44 L800.75,130.98 L801.00,130.52 L801.25,130.06 L801.50,129.61 L801.75,129.15 L802.00,128.70 L802.25,128.25 L802.50,127.79 L802.75,127.34 L803.00,126.89 L803.25,126.44 L803.50,126.00 L803.75,125.55 L804.00,125.10 L804.25,124.66 L804.50,124.21 L804.75,123.77 L805.00,123.33 L805.25,122.89 L805.50,122.45 L805.75,122.01 L806.00,121.57 L806.25,121.13 L806.50,120.70 L806.75,120.26 L807.00,119.83 L807.25,119.39 L807.50,118.96 L807.75,118.53 L808.00,118.10 L808.25,117.67 L808.50,117.24 L808.75,116.81 L809.00,116.38 L809.25,115.96 L809.50,115.53 L809.75,115.11 L810.00,114.69 L810.25,114.26 L810.50,113.84 L810.75,113.42 L811.00,113.00 L811.25,112.58 L811.50,112.17 L811.75,111.75 L812.00,111.34 L812.25,110.92 L812.50,110.51 L812.75,110.09 L813.00,109.68 L813.25,109.27 L813.50,108.86 L813.75,108.45 L814.00,108.04 L814.25,107.64 L814.50,107.23 L814.75,106.82 L815.00,106.42 L815.25,106.02 L815.50,105.61 L815.75,105.21 L816.00,104.81 L816.25,104.41 L816.50,104.01 L816.75,103.61 L817.00,103.22 L817.25,102.82 L817.50,102.42 L817.75,102.03 L818.00,101.64 L818.25,101.24 L818.50,100.85 L818.75,100.46 L819.00,100.07 L819.25,99.68 L819.50,99.29 L819.75,98.90 L820.00,98.52 L820.25,98.13 L820.50,97.75 L820.75,97.36 L821.00,96.98 L821.25,96.60 L821.50,96.22 L821.75,95.84 L822.00,95.46 L822.25,95.08 L822.50,94.70 L822.75,94.32 L823.00,93.95 L823.25,93.57 L823.50,93.20 L823.75,92.82 L824.00,92.45 L824.25,92.08 L824.50,91.71 L824.75,91.34 L825.00,90.97 L825.25,90.60 L825.50,90.23 L825.75,89.86 L826.00,89.50 L826.25,89.13 L826.50,88.77 L826.75,88.40 L827.00,88.04 L827.25,87.68 L827.50,87.32 L827.75,86.96 L828.00,86.60 L828.25,86.24 L828.50,85.88 L828.75,85.52 L829.00,85.17 L829.25,84.81 L829.50,84.46 L829.75,84.10 L830.00,83.75 L830.25,83.40 L830.50,83.05 L830.75,82.70 L831.00,82.35 L831.25,82.00 L831.50,81.65 L831.75,81.30 L832.00,80.96 L832.25,80.61 L832.50,80.26 L832.75,79.92 L833.00,79.58 L833.25,79.23 L833.50,78.89 L833.75,78.55 L834.00,78.21 L834.25,77.87 L834.50,77.53 L834.75,77.19 L835.00,76.86 L835.25,76.52 L835.50,76.18 L835.75,75.85 L836.00,75.51 L836.25,75.18 L836.50,74.85 L836.75,74.52 L837.00,74.18 L837.25,73.85 L837.50,73.52 L837.75,73.19 L838.00,72.87 L838.25,72.54 L838.50,72.21 L838.75,71.89 L839.00,71.56 L839.25,71.24 L839.50,70.91 L839.75,70.59 L840.00,70.27 L840.25,69.94 L840.50,69.62 L840.75,69.30 L841.00,68.98 L841.25,68.66 L841.50,68.35 L841.75,68.03 L842.00,67.71 L842.25,67.40 L842.50,67.08 L842.75,66.77 L843.00,66.45 L843.25,66.14 L843.50,65.83 L843.75,65.52 L844.00,65.21 L844.25,64.90 L844.50,64.59 L844.75,64.28 L845.00,63.97 L845.25,63.67 L845.50,63.36 L845.75,63.06 L846.00,62.75 L846.25,62.45 L846.50,62.15 L846.75,61.85 L847.00,61.55 L847.25,61.25 L847.50,60.95 L847.75,60.66 L848.00,60.36 L848.25,60.06 L848.50,59.77 L848.75,59.48 L849.00,59.19 L849.25,58.89 L849.50,58.60 L849.75,58.32 L850.00,58.03 L850.25,57.74 L850.50,57.46 L850.75,57.17 L851.00,56.89 L851.25,56.60 L851.50,56.32 L851.75,56.04 L852.00,55.76 L852.25,55.48 L852.50,55.21 L852.75,54.93 L853.00,54.65 L853.25,54.38 L853.50,54.11 L853.75,53.84 L854.00,53.57 L854.25,53.30 L854.50,53.03 L854.75,52.76 L855.00,52.49 L855.25,52.23 L855.50,51.96 L855.75,51.70 L856.00,51.44 L856.25,51.18 L856.50,50.92 L856.75,50.66 L857.00,50.40 L857.25,50.15 L857.50,49.89 L857.75,49.64 L858.00,49.39 L858.25,49.14 L858.50,48.89 L858.75,48.64 L859.00,48.39 L859.25,48.14 L859.50,47.90 L860.00,47.41 L860.50,46.93 L861.00,46.45 L861.50,45.98 L862.00,45.51 L862.50,45.04 L863.00,44.58 L863.50,44.13 L864.00,43.68 L864.50,43.24 L865.00,42.80 L865.50,42.36 L866.00,41.93 L866.50,41.51 L867.00,41.09 L867.50,40.67 L868.00,40.26 L868.50,39.85 L869.00,39.45 L869.50,39.06 L870.00,38.66 L870.50,38.28 L871.00,37.90 L871.50,37.52 L872.00,37.15 L872.50,36.78 L873.00,36.41 L873.50,36.06 L874.00,35.70 L874.50,35.35 L875.00,35.01 L875.50,34.67 L876.00,34.33 L876.50,34.00 L877.00,33.68 L877.50,33.36 L878.00,33.04 L878.50,32.73 L879.00,32.42 L879.50,32.12 L880.00,31.82 L880.50,31.52 L881.00,31.24 L881.50,30.95 L882.00,30.67 L882.50,30.39 L883.00,30.12 L883.50,29.85 L884.00,29.59 L884.50,29.33 L885.00,29.08 L885.50,28.83 L886.00,28.58 L886.50,28.34 L887.00,28.10 L887.50,27.87 L888.00,27.64 L888.50,27.41 L889.00,27.19 L889.50,26.97 L890.00,26.75 L890.50,26.54 L891.00,26.33 L891.50,26.12 L892.00,25.92 L892.50,25.72 L893.00,25.52 L893.50,25.33 L894.00,25.14 L894.50,24.95 L895.00,24.77 L895.50,24.59 L896.00,24.41 L896.50,24.23 L897.00,24.06 L897.50,23.89 L898.00,23.72 L898.50,23.56 L899.00,23.39 L899.50,23.23 L900.00,23.07 L900.50,22.92 L901.00,22.77 L901.50,22.62 L902.00,22.47 L902.50,22.32 L903.00,22.18 L903.50,22.04 L904.00,21.90 L904.50,21.76 L905.00,21.62 L905.50,21.49 L906.00,21.36 L906.50,21.23 L907.00,21.10 L907.50,20.98 L908.00,20.86 L908.50,20.73 L909.00,20.61 L909.50,20.50 L910.00,20.38 L910.50,20.27 L911.00,20.16 L911.50,20.04 L912.00,19.94 L912.50,19.83 L913.00,19.72 L913.50,19.62 L914.00,19.52 L914.50,19.42 L915.00,19.32 L915.50,19.22 L916.00,19.12 L916.50,19.03 L917.00,18.94 L917.50,18.85 L918.00,18.76 L918.50,18.67 L919.00,18.58 L919.50,18.49 L920.00,18.41 L920.50,18.32 L921.00,18.24 L921.50,18.16 L922.00,18.08 L922.50,18.00 L923.00,17.93 L923.50,17.85 L924.00,17.78 L924.50,17.70 L925.00,17.63 L925.50,17.56 L926.00,17.49 L926.50,17.42 L927.00,17.35 L927.50,17.28 L928.00,17.22 L928.50,17.15 L929.00,17.09 L929.50,17.03 L930.00,16.96 L930.50,16.90 L931.00,16.84 L931.50,16.78 L932.00,16.73 L932.50,16.67 L933.00,16.61 L933.50,16.56 L934.00,16.50 L934.50,16.45 L935.00,16.39 L935.50,16.34 L936.00,16.29 L936.50,16.24 L937.00,16.19 L937.50,16.14 L938.00,16.09 L938.50,16.04 L939.00,15.99 L939.50,15.95 L940.00,15.90 L940.50,15.86 L941.00,15.81 L941.50,15.77 L942.00,15.72 L942.50,15.68 L943.00,15.64 L943.50,15.59 L944.00,15.55 L944.50,15.51 L945.00,15.47 L945.50,15.43 L946.00,15.39 L946.50,15.35 L947.00,15.31 L947.50,15.27 L948.00,15.24 L948.50,15.20 L949.00,15.16 L949.50,15.12 L950.00,15.09 L950.50,15.05 L950.77,15.03" stroke="#19bcb6" stroke-width="6" fill="none" stroke-linejoin="round" stroke-linecap="round"/>
<path d="M138.50,646.50 L139.00,646.50 L139.50,646.50 L140.00,646.50 L140.50,646.50 L141.00,646.50 L141.50,646.50 L142.00,646.50 L142.50,646.49 L143.00,646.49 L143.50,646.49 L144.00,646.49 L144.50,646.49 L145.00,646.49 L145.50,646.49 L146.00,646.49 L146.50,646.49 L147.00,646.49 L147.50,646.49 L148.00,646.49 L148.50,646.49 L149.00,646.48 L149.50,646.48 L150.00,646.48 L150.50,646.48 L151.00,646.48 L151.50,646.48 L152.00,646.48 L152.50,646.48 L153.00,646.48 L153.50,646.48 L154.00,646.48 L154.50,646.48 L155.00,646.47 L155.50,646.47 L156.00,646.47 L156.50,646.47 L157.00,646.47 L157.50,646.47 L158.00,646.47 L158.50,646.47 L159.00,646.47 L159.50,646.47 L160.00,646.47 L160.50,646.46 L161.00,646.46 L161.50,646.46 L162.00,646.46 L162.50,646.46 L163.00,646.46 L163.50,646.46 L164.00,646.46 L164.50,646.46 L165.00,646.46 L165.50,646.45 L166.00,646.45 L166.50,646.45 L167.00,646.45 L167.50,646.45 L168.00,646.45 L168.50,646.45 L169.00,646.45 L169.50,646.45 L170.00,646.44 L170.50,646.44 L171.00,646.44 L171.50,646.44 L172.00,646.44 L172.50,646.44 L173.00,646.44 L173.50,646.44 L174.00,646.44 L174.50,646.43 L175.00,646.43 L175.50,646.43 L176.00,646.43 L176.50,646.43 L177.00,646.43 L177.50,646.43 L178.00,646.43 L178.50,646.42 L179.00,646.42 L179.50,646.42 L180.00,646.42 L180.50,646.42 L181.00,646.42 L181.50,646.42 L182.00,646.42 L182.50,646.41 L183.00,646.41 L183.50,646.41 L184.00,646.41 L184.50,646.41 L185.00,646.41 L185.50,646.41 L186.00,646.41 L186.50,646.40 L187.00,646.40 L187.50,646.40 L188.00,646.40 L188.50,646.40 L189.00,646.40 L189.50,646.40 L190.00,646.39 L190.50,646.39 L191.00,646.39 L191.50,646.39 L192.00,646.39 L192.50,646.39 L193.00,646.39 L193.50,646.39 L194.00,646.38 L194.50,646.38 L195.00,646.38 L195.50,646.38 L196.00,646.38 L196.50,646.38 L197.00,646.38 L197.50,646.37 L198.00,646.37 L198.50,646.37 L199.00,646.37 L199.50,646.37 L200.00,646.37 L200.50,646.37 L201.00,646.36 L201.50,646.36 L202.00,646.36 L202.50,646.36 L203.00,646.36 L203.50,646.36 L204.00,646.35 L204.50,646.35 L205.00,646.35 L205.50,646.35 L206.00,646.35 L206.50,646.35 L207.00,646.35 L207.50,646.34 L208.00,646.34 L208.50,646.34 L209.00,646.34 L209.50,646.34 L210.00,646.34 L210.50,646.33 L211.00,646.33 L211.50,646.33 L212.00,646.33 L212.50,646.33 L213.00,646.33 L213.50,646.33 L214.00,646.32 L214.50,646.32 L215.00,646.32 L215.50,646.32 L216.00,646.32 L216.50,646.32 L217.00,646.31 L217.50,646.31 L218.00,646.31 L218.50,646.31 L219.00,646.31 L219.50,646.31 L220.00,646.30 L220.50,646.30 L221.00,646.30 L221.50,646.30 L222.00,646.30 L222.50,646.30 L223.00,646.29 L223.50,646.29 L224.00,646.29 L224.50,646.29 L225.00,646.29 L225.50,646.29 L226.00,646.28 L226.50,646.28 L227.00,646.28 L227.50,646.28 L228.00,646.28 L228.50,646.28 L229.00,646.27 L229.50,646.27 L230.00,646.27 L230.50,646.27 L231.00,646.27 L231.50,646.27 L232.00,646.26 L232.50,646.26 L233.00,646.26 L233.50,646.26 L234.00,646.26 L234.50,646.26 L235.00,646.25 L235.50,646.25 L236.00,646.25 L236.50,646.25 L237.00,646.25 L237.50,646.24 L238.00,646.24 L238.50,646.24 L239.00,646.24 L239.50,646.24 L240.00,646.24 L240.50,646.23 L241.00,646.23 L241.50,646.23 L242.00,646.23 L242.50,646.23 L243.00,646.23 L243.50,646.22 L244.00,646.22 L244.50,646.22 L245.00,646.22 L245.50,646.22 L246.00,646.21 L246.50,646.21 L247.00,646.21 L247.50,646.21 L248.00,646.21 L248.50,646.21 L249.00,646.20 L249.50,646.20 L250.00,646.20 L250.50,646.20 L251.00,646.20 L251.50,646.19 L252.00,646.19 L252.50,646.19 L253.00,646.19 L253.50,646.19 L254.00,646.19 L254.50,646.18 L255.00,646.18 L255.50,646.18 L256.00,646.18 L256.50,646.18 L257.00,646.17 L257.50,646.17 L258.00,646.17 L258.50,646.17 L259.00,646.17 L259.50,646.16 L260.00,646.16 L260.50,646.16 L261.00,646.16 L261.50,646.16 L262.00,646.15 L262.50,646.15 L263.00,646.15 L263.50,646.15 L264.00,646.15 L264.50,646.14 L265.00,646.14 L265.50,646.14 L266.00,646.14 L266.50,646.13 L267.00,646.13 L267.50,646.13 L268.00,646.13 L268.50,646.13 L269.00,646.12 L269.50,646.12 L270.00,646.12 L270.50,646.12 L271.00,646.11 L271.50,646.11 L272.00,646.11 L272.50,646.11 L273.00,646.11 L273.50,646.10 L274.00,646.10 L274.50,646.10 L275.00,646.10 L275.50,646.09 L276.00,646.09 L276.50,646.09 L277.00,646.09 L277.50,646.08 L278.00,646.08 L278.50,646.08 L279.00,646.08 L279.50,646.08 L280.00,646.07 L280.50,646.07 L281.00,646.07 L281.50,646.07 L282.00,646.06 L282.50,646.06 L283.00,646.06 L283.50,646.06 L284.00,646.05 L284.50,646.05 L285.00,646.05 L285.50,646.05 L286.00,646.04 L286.50,646.04 L287.00,646.04 L287.50,646.04 L288.00,646.03 L288.50,646.03 L289.00,646.03 L289.50,646.03 L290.00,646.02 L290.50,646.02 L291.00,646.02 L291.50,646.02 L292.00,646.01 L292.50,646.01 L293.00,646.01 L293.50,646.01 L294.00,646.00 L294.50,646.00 L295.00,646.00 L295.50,645.99 L296.00,645.99 L296.50,645.99 L297.00,645.99 L297.50,645.98 L298.00,645.98 L298.50,645.98 L299.00,645.98 L299.50,645.97 L300.00,645.97 L300.50,645.97 L301.00,645.96 L301.50,645.96 L302.00,645.96 L302.50,645.96 L303.00,645.95 L303.50,645.95 L304.00,645.95 L304.50,645.95 L305.00,645.94 L305.50,645.94 L306.00,645.94 L306.50,645.93 L307.00,645.93 L307.50,645.93 L308.00,645.93 L308.50,645.92 L309.00,645.92 L309.50,645.92 L310.00,645.91 L310.50,645.91 L311.00,645.91 L311.50,645.91 L312.00,645.90 L312.50,645.90 L313.00,645.90 L313.50,645.89 L314.00,645.89 L314.50,645.89 L315.00,645.89 L315.50,645.88 L316.00,645.88 L316.50,645.88 L317.00,645.87 L317.50,645.87 L318.00,645.87 L318.50,645.86 L319.00,645.86 L319.50,645.86 L320.00,645.86 L320.50,645.85 L321.00,645.85 L321.50,645.85 L322.00,645.84 L322.50,645.84 L323.00,645.84 L323.50,645.83 L324.00,645.83 L324.50,645.83 L325.00,645.82 L325.50,645.82 L326.00,645.82 L326.50,645.82 L327.00,645.81 L327.50,645.81 L328.00,645.81 L328.50,645.80 L329.00,645.80 L329.50,645.80 L330.00,645.79 L330.50,645.79 L331.00,645.79 L331.50,645.78 L332.00,645.78 L332.50,645.78 L333.00,645.77 L333.50,645.77 L334.00,645.77 L334.50,645.76 L335.00,645.76 L335.50,645.76 L336.00,645.76 L336.50,645.75 L337.00,645.75 L337.50,645.75 L338.00,645.74 L338.50,645.74 L339.00,645.74 L339.50,645.73 L340.00,645.73 L340.50,645.73 L341.00,645.72 L341.50,645.72 L342.00,645.72 L342.50,645.71 L343.00,645.71 L343.50,645.71 L344.00,645.70 L344.50,645.70 L345.00,645.70 L345.50,645.69 L346.00,645.69 L346.50,645.69 L347.00,645.68 L347.50,645.68 L348.00,645.68 L348.50,645.67 L349.00,645.67 L349.50,645.67 L350.00,645.66 L350.50,645.66 L351.00,645.66 L351.50,645.65 L352.00,645.65 L352.50,645.65 L353.00,645.64 L353.50,645.64 L354.00,645.63 L354.50,645.63 L355.00,645.63 L355.50,645.62 L356.00,645.62 L356.50,645.62 L357.00,645.61 L357.50,645.61 L358.00,645.61 L358.50,645.60 L359.00,645.60 L359.50,645.60 L360.00,645.59 L360.50,645.59 L361.00,645.59 L361.50,645.58 L362.00,645.58 L362.50,645.58 L363.00,645.57 L363.50,645.57 L364.00,645.57 L364.50,645.56 L365.00,645.56 L365.50,645.55 L366.00,645.55 L366.50,645.55 L367.00,645.54 L367.50,645.54 L368.00,645.54 L368.50,645.53 L369.00,645.53 L369.50,645.53 L370.00,645.52 L370.50,645.52 L371.00,645.52 L371.50,645.51 L372.00,645.51 L372.50,645.50 L373.00,645.50 L373.50,645.50 L374.00,645.49 L374.50,645.49 L375.00,645.49 L375.50,645.48 L376.00,645.48 L376.50,645.48 L377.00,645.47 L377.50,645.47 L378.00,645.46 L378.50,645.46 L379.00,645.46 L379.50,645.45 L380.00,645.45 L380.50,645.45 L381.00,645.44 L381.50,645.44 L382.00,645.44 L382.50,645.43 L383.00,645.43 L383.50,645.42 L384.00,645.42 L384.50,645.42 L385.00,645.41 L385.50,645.41 L386.00,645.41 L386.50,645.40 L387.00,645.40 L387.50,645.39 L388.00,645.39 L388.50,645.39 L389.00,645.38 L389.50,645.38 L390.00,645.38 L390.50,645.37 L391.00,645.37 L391.50,645.36 L392.00,645.36 L392.50,645.36 L393.00,645.35 L393.50,645.35 L394.00,645.35 L394.50,645.34 L395.00,645.34 L395.50,645.33 L396.00,645.33 L396.50,645.33 L397.00,645.32 L397.50,645.32 L398.00,645.32 L398.50,645.31 L399.00,645.31 L399.50,645.30 L400.00,645.30 L400.50,645.30 L401.00,645.29 L401.50,645.29 L402.00,645.28 L402.50,645.28 L403.00,645.28 L403.50,645.27 L404.00,645.27 L404.50,645.27 L405.00,645.26 L405.50,645.26 L406.00,645.25 L406.50,645.25 L407.00,645.25 L407.50,645.24 L408.00,645.24 L408.50,645.23 L409.00,645.23 L409.50,645.23 L410.00,645.22 L410.50,645.22 L411.00,645.21 L411.50,645.21 L412.00,645.21 L412.50,645.20 L413.00,645.20 L413.50,645.19 L414.00,645.19 L414.50,645.19 L415.00,645.18 L415.50,645.18 L416.00,645.17 L416.50,645.17 L417.00,645.17 L417.50,645.16 L418.00,645.16 L418.50,645.15 L419.00,645.15 L419.50,645.14 L420.00,645.14 L420.50,645.14 L421.00,645.13 L421.50,645.13 L422.00,645.12 L422.50,645.12 L423.00,645.12 L423.50,645.11 L424.00,645.11 L424.50,645.10 L425.00,645.10 L425.50,645.09 L426.00,645.09 L426.50,645.09 L427.00,645.08 L427.50,645.08 L428.00,645.07 L428.50,645.07 L429.00,645.06 L429.50,645.06 L430.00,645.06 L430.50,645.05 L431.00,645.05 L431.50,645.04 L432.00,645.04 L432.50,645.03 L433.00,645.03 L433.50,645.02 L434.00,645.02 L434.50,645.02 L435.00,645.01 L435.50,645.01 L436.00,645.00 L436.50,645.00 L437.00,644.99 L437.50,644.99 L438.00,644.98 L438.50,644.98 L439.00,644.97 L439.50,644.97 L440.00,644.97 L440.50,644.96 L441.00,644.96 L441.50,644.95 L442.00,644.95 L442.50,644.94 L443.00,644.94 L443.50,644.93 L444.00,644.93 L444.50,644.92 L445.00,644.92 L445.50,644.91 L446.00,644.91 L446.50,644.90 L447.00,644.90 L447.50,644.89 L448.00,644.89 L448.50,644.89 L449.00,644.88 L449.50,644.88 L450.00,644.87 L450.50,644.87 L451.00,644.86 L451.50,644.86 L452.00,644.85 L452.50,644.85 L453.00,644.84 L453.50,644.84 L454.00,644.83 L454.50,644.83 L455.00,644.82 L455.50,644.82 L456.00,644.81 L456.50,644.81 L457.00,644.80 L457.50,644.80 L458.00,644.79 L458.50,644.79 L459.00,644.78 L459.50,644.77 L460.00,644.77 L460.50,644.76 L461.00,644.76 L461.50,644.75 L462.00,644.75 L462.50,644.74 L463.00,644.74 L463.50,644.73 L464.00,644.73 L464.50,644.72 L465.00,644.72 L465.50,644.71 L466.00,644.71 L466.50,644.70 L467.00,644.70 L467.50,644.69 L468.00,644.68 L468.50,644.68 L469.00,644.67 L469.50,644.67 L470.00,644.66 L470.50,644.66 L471.00,644.65 L471.50,644.65 L472.00,644.64 L472.50,644.64 L473.00,644.63 L473.50,644.62 L474.00,644.62 L474.50,644.61 L475.00,644.61 L475.50,644.60 L476.00,644.60 L476.50,644.59 L477.00,644.58 L477.50,644.58 L478.00,644.57 L478.50,644.57 L479.00,644.56 L479.50,644.56 L480.00,644.55 L480.50,644.54 L481.00,644.54 L481.50,644.53 L482.00,644.53 L482.50,644.52 L483.00,644.51 L483.50,644.51 L484.00,644.50 L484.50,644.50 L485.00,644.49 L485.50,644.48 L486.00,644.48 L486.50,644.47 L487.00,644.47 L487.50,644.46 L488.00,644.45 L488.50,644.45 L489.00,644.44 L489.50,644.43 L490.00,644.43 L490.50,644.42 L491.00,644.42 L491.50,644.41 L492.00,644.40 L492.50,644.40 L493.00,644.39 L493.50,644.38 L494.00,644.38 L494.50,644.37 L495.00,644.37 L495.50,644.36 L496.00,644.35 L496.50,644.35 L497.00,644.34 L497.50,644.33 L498.00,644.33 L498.50,644.32 L499.00,644.31 L499.50,644.31 L500.00,644.30 L500.50,644.29 L501.00,644.29 L501.50,644.28 L502.00,644.27 L502.50,644.27 L503.00,644.26 L503.50,644.25 L504.00,644.25 L504.50,644.24 L505.00,644.23 L505.50,644.23 L506.00,644.22 L506.50,644.21 L507.00,644.20 L507.50,644.20 L508.00,644.19 L508.50,644.18 L509.00,644.18 L509.50,644.17 L510.00,644.16 L510.50,644.15 L511.00,644.15 L511.50,644.14 L512.00,644.13 L512.50,644.13 L513.00,644.12 L513.50,644.11 L514.00,644.10 L514.50,644.10 L515.00,644.09 L515.50,644.08 L516.00,644.07 L516.50,644.06 L517.00,644.06 L517.50,644.05 L518.00,644.04 L518.50,644.03 L519.00,644.03 L519.50,644.02 L520.00,644.01 L520.50,644.00 L521.00,643.99 L521.50,643.99 L522.00,643.98 L522.50,643.97 L523.00,643.96 L523.50,643.95 L524.00,643.94 L524.50,643.94 L525.00,643.93 L525.50,643.92 L526.00,643.91 L526.50,643.90 L527.00,643.89 L527.50,643.88 L528.00,643.88 L528.50,643.87 L529.00,643.86 L529.50,643.85 L530.00,643.84 L530.50,643.83 L531.00,643.82 L531.50,643.81 L532.00,643.80 L532.50,643.80 L533.00,643.79 L533.50,643.78 L534.00,643.77 L534.50,643.76 L535.00,643.75 L535.50,643.74 L536.00,643.73 L536.50,643.72 L537.00,643.71 L537.50,643.70 L538.00,643.69 L538.50,643.68 L539.00,643.67 L539.50,643.66 L540.00,643.65 L540.50,643.64 L541.00,643.63 L541.50,643.62 L542.00,643.61 L542.50,643.60 L543.00,643.59 L543.50,643.58 L544.00,643.57 L544.50,643.56 L545.00,643.55 L545.50,643.54 L546.00,643.53 L546.50,643.52 L547.00,643.51 L547.50,643.49 L548.00,643.48 L548.50,643.47 L549.00,643.46 L549.50,643.45 L550.00,643.44 L550.50,643.43 L551.00,643.42 L551.50,643.41 L552.00,643.39 L552.50,643.38 L553.00,643.37 L553.50,643.36 L554.00,643.35 L554.50,643.34 L555.00,643.32 L555.50,643.31 L556.00,643.30 L556.50,643.29 L557.00,643.27 L557.50,643.26 L558.00,643.25 L558.50,643.24 L559.00,643.23 L559.50,643.21 L560.00,643.20 L560.50,643.19 L561.00,643.17 L561.50,643.16 L562.00,643.15 L562.50,643.14 L563.00,643.12 L563.50,643.11 L564.00,643.10 L564.50,643.09 L565.00,643.07 L565.50,643.06 L566.00,643.05 L566.50,643.03 L567.00,643.02 L567.50,643.00 L568.00,642.99 L568.50,642.97 L569.00,642.96 L569.50,642.94 L570.00,642.93 L570.50,642.91 L571.00,642.90 L571.50,642.88 L572.00,642.86 L572.50,642.84 L573.00,642.82 L573.50,642.81 L574.00,642.79 L574.50,642.77 L575.00,642.75 L575.50,642.72 L576.00,642.70 L576.50,642.68 L577.00,642.66 L577.50,642.63 L578.00,642.61 L578.50,642.58 L579.00,642.56 L579.50,642.53 L580.00,642.50 L580.50,642.47 L581.00,642.44 L581.50,642.41 L582.00,642.37 L582.50,642.33 L583.00,642.29 L583.50,642.24 L584.00,642.19 L584.50,642.13 L585.00,642.06 L585.50,641.98 L586.00,641.90 L586.50,641.78 L587.00,641.62 L587.50,641.41 L588.00,641.16 L588.50,640.89 L589.00,640.60 L589.50,640.27 L590.00,639.87 L590.50,639.41 L590.75,639.16 L591.00,638.91 L591.25,638.65 L591.50,638.38 L591.75,638.11 L592.00,637.83 L592.25,637.56 L592.50,637.27 L592.75,636.97 L593.00,636.66 L593.25,636.33 L593.50,636.00 L593.75,635.65 L594.00,635.30 L594.25,634.94 L594.50,634.58 L594.75,634.22 L595.00,633.86 L595.25,633.51 L595.50,633.16 L595.75,632.83 L596.00,632.50 L596.25,632.18 L596.50,631.87 L596.75,631.56 L597.00,631.25 L597.25,630.95 L597.50,630.65 L597.75,630.35 L598.00,630.06 L598.25,629.77 L598.50,629.47 L598.75,629.18 L599.00,628.89 L599.25,628.59 L599.50,628.30 L599.75,628.00 L600.00,627.71 L600.25,627.41 L600.50,627.10 L600.75,626.80 L601.00,626.49 L601.25,626.18 L601.50,625.86 L601.75,625.53 L602.00,625.21 L602.25,624.87 L602.50,624.54 L602.75,624.20 L603.00,623.85 L603.25,623.51 L603.50,623.16 L603.75,622.81 L604.00,622.45 L604.25,622.10 L604.50,621.74 L604.75,621.39 L605.00,621.03 L605.25,620.67 L605.50,620.32 L605.75,619.96 L606.00,619.60 L606.25,619.25 L606.50,618.90 L606.75,618.55 L607.00,618.21 L607.25,617.88 L607.50,617.55 L607.75,617.22 L608.00,616.90 L608.25,616.57 L608.50,616.25 L608.75,615.92 L609.00,615.59 L609.25,615.25 L609.50,614.91 L609.75,614.57 L610.00,614.21 L610.25,613.84 L610.50,613.47 L610.75,613.08 L611.00,612.68 L611.25,612.26 L611.50,611.82 L611.75,611.32 L612.00,610.77 L612.25,610.21 L612.50,609.64 L612.75,609.10 L613.00,608.62 L613.25,608.21 L613.50,607.84 L613.75,607.50 L614.00,607.16 L614.25,606.80 L614.50,606.45 L614.75,606.09 L615.00,605.73 L615.25,605.37 L615.50,605.02 L615.75,604.66 L616.00,604.30 L616.25,603.94 L616.50,603.59 L616.75,603.23 L617.00,602.87 L617.25,602.52 L617.50,602.16 L617.75,601.80 L618.00,601.45 L618.25,601.09 L618.50,600.74 L618.75,600.38 L619.00,600.02 L619.25,599.67 L619.50,599.31 L619.75,598.96 L620.00,598.60 L620.25,598.25 L620.50,597.89 L620.75,597.54 L621.00,597.18 L621.25,596.83 L621.50,596.47 L621.75,596.12 L622.00,595.76 L622.25,595.41 L622.50,595.05 L622.75,594.70 L623.00,594.34 L623.25,593.99 L623.50,593.64 L623.75,593.28 L624.00,592.93 L624.25,592.57 L624.50,592.22 L624.75,591.87 L625.00,591.51 L625.25,591.16 L625.50,590.81 L625.75,590.45 L626.00,590.10 L626.25,589.75 L626.50,589.39 L626.75,589.04 L627.00,588.69 L627.25,588.33 L627.50,587.98 L627.75,587.63 L628.00,587.28 L628.25,586.92 L628.50,586.57 L628.75,586.22 L629.00,585.87 L629.25,585.52 L629.50,585.16 L629.75,584.81 L630.00,584.46 L630.25,584.11 L630.50,583.76 L630.75,583.40 L631.00,583.05 L631.25,582.70 L631.50,582.35 L631.75,582.00 L632.00,581.65 L632.25,581.30 L632.50,580.94 L632.75,580.59 L633.00,580.24 L633.25,579.89 L633.50,579.54 L633.75,579.19 L634.00,578.84 L634.25,578.49 L634.50,578.14 L634.75,577.79 L635.00,577.44 L635.25,577.09 L635.50,576.74 L635.75,576.39 L636.00,576.04 L636.25,575.69 L636.50,575.34 L636.75,574.99 L637.00,574.64 L637.25,574.29 L637.50,573.94 L637.75,573.59 L638.00,573.24 L638.25,572.89 L638.50,572.54 L638.75,572.19 L639.00,571.84 L639.25,571.49 L639.50,571.14 L639.75,570.79 L640.00,570.44 L640.25,570.09 L640.50,569.75 L640.75,569.40 L641.00,569.05 L641.25,568.70 L641.50,568.35 L641.75,568.00 L642.00,567.65 L642.25,567.31 L642.50,566.96 L642.75,566.61 L643.00,566.26 L643.25,565.91 L643.50,565.56 L643.75,565.22 L644.00,564.87 L644.25,564.52 L644.50,564.17 L644.75,563.82 L645.00,563.48 L645.25,563.13 L645.50,562.78 L645.75,562.43 L646.00,562.09 L646.25,561.74 L646.50,561.39 L646.75,561.04 L647.00,560.70 L647.25,560.35 L647.50,560.00 L647.75,559.65 L648.00,559.31 L648.25,558.96 L648.50,558.61 L648.75,558.26 L649.00,557.92 L649.25,557.57 L649.50,557.22 L649.75,556.88 L650.00,556.53 L650.25,556.18 L650.50,555.84 L650.75,555.49 L651.00,555.14 L651.25,554.80 L651.50,554.45 L651.75,554.10 L652.00,553.76 L652.25,553.41 L652.50,553.07 L652.75,552.72 L653.00,552.37 L653.25,552.03 L653.50,551.68 L653.75,551.33 L654.00,550.99 L654.25,550.64 L654.50,550.30 L654.75,549.95 L655.00,549.60 L655.25,549.26 L655.50,548.91 L655.75,548.57 L656.00,548.22 L656.25,547.88 L656.50,547.53 L656.75,547.18 L657.00,546.84 L657.25,546.49 L657.50,546.15 L657.75,545.80 L658.00,545.46 L658.25,545.11 L658.50,544.77 L658.75,544.42 L659.00,544.08 L659.25,543.73 L659.50,543.38 L659.75,543.04 L660.00,542.69 L660.25,542.35 L660.50,542.00 L660.75,541.66 L661.00,541.31 L661.25,540.97 L661.50,540.62 L661.75,540.28 L662.00,539.93 L662.25,539.59 L662.50,539.24 L662.75,538.90 L663.00,538.56 L663.25,538.21 L663.50,537.87 L663.75,537.52 L664.00,537.18 L664.25,536.83 L664.50,536.49 L664.75,536.14 L665.00,535.80 L665.25,535.45 L665.50,535.11 L665.75,534.76 L666.00,534.42 L666.25,534.08 L666.50,533.73 L666.75,533.39 L667.00,533.04 L667.25,532.70 L667.50,532.35 L667.75,532.01 L668.00,531.67 L668.25,531.32 L668.50,530.98 L668.75,530.63 L669.00,530.29 L669.25,529.94 L669.50,529.60 L669.75,529.26 L670.00,528.91 L670.25,528.57 L670.50,528.22 L670.75,527.88 L671.00,527.54 L671.25,527.19 L671.50,526.85 L671.75,526.50 L672.00,526.16 L672.25,525.82 L672.50,525.47 L672.75,525.13 L673.00,524.79 L673.25,524.44 L673.50,524.10 L673.75,523.75 L674.00,523.41 L674.25,523.07 L674.50,522.72 L674.75,522.38 L675.00,522.03 L675.25,521.69 L675.50,521.35 L675.75,521.00 L676.00,520.66 L676.25,520.32 L676.50,519.97 L676.75,519.63 L677.00,519.29 L677.25,518.94 L677.50,518.60 L677.75,518.25 L678.00,517.91 L678.25,517.57 L678.50,517.22 L678.75,516.88 L679.00,516.54 L679.25,516.19 L679.50,515.85 L679.75,515.51 L680.00,515.16 L680.25,514.82 L680.50,514.48 L680.75,514.13 L681.00,513.79 L681.25,513.44 L681.50,513.10 L681.75,512.76 L682.00,512.41 L682.25,512.07 L682.50,511.73 L682.75,511.38 L683.00,511.04 L683.25,510.70 L683.50,510.35 L683.75,510.01 L684.00,509.67 L684.25,509.32 L684.50,508.98 L684.75,508.64 L685.00,508.29 L685.25,507.95 L685.50,507.61 L685.75,507.26 L686.00,506.92 L686.25,506.58 L686.50,506.23 L686.75,505.89 L687.00,505.54 L687.25,505.20 L687.50,504.86 L687.75,504.51 L688.00,504.17 L688.25,503.83 L688.50,503.48 L688.75,503.14 L689.00,502.80 L689.25,502.45 L689.50,502.11 L689.75,501.77 L690.00,501.42 L690.25,501.08 L690.50,500.74 L690.75,500.39 L691.00,500.05 L691.25,499.70 L691.50,499.36 L691.75,499.02 L692.00,498.67 L692.25,498.33 L692.50,497.99 L692.75,497.64 L693.00,497.30 L693.25,496.96 L693.50,496.61 L693.75,496.27 L694.00,495.92 L694.25,495.58 L694.50,495.24 L694.75,494.89 L695.00,494.55 L695.25,494.21 L695.50,493.86 L695.75,493.52 L696.00,493.17 L696.25,492.83 L696.50,492.49 L696.75,492.14 L697.00,491.80 L697.25,491.46 L697.50,491.11 L697.75,490.77 L698.00,490.42 L698.25,490.08 L698.50,489.74 L698.75,489.39 L699.00,489.05 L699.25,488.70 L699.50,488.36 L699.75,488.02 L700.00,487.67 L700.25,487.33 L700.50,486.98 L700.75,486.64 L701.00,486.29 L701.25,485.95 L701.50,485.61 L701.75,485.26 L702.00,484.92 L702.25,484.57 L702.50,484.23 L702.75,483.88 L703.00,483.54 L703.25,483.20 L703.50,482.85 L703.75,482.51 L704.00,482.16 L704.25,481.82 L704.50,481.47 L704.75,481.13 L705.00,480.78 L705.25,480.44 L705.50,480.09 L705.75,479.75 L706.00,479.41 L706.25,479.06 L706.50,478.72 L706.75,478.37 L707.00,478.03 L707.25,477.68 L707.50,477.34 L707.75,476.99 L708.00,476.65 L708.25,476.30 L708.50,475.96 L708.75,475.61 L709.00,475.27 L709.25,474.92 L709.50,474.58 L709.75,474.23 L710.00,473.89 L710.25,473.54 L710.50,473.20 L710.75,472.85 L711.00,472.51 L711.25,472.16 L711.50,471.81 L711.75,471.47 L712.00,471.12 L712.25,470.78 L712.50,470.43 L712.75,470.09 L713.00,469.74 L713.25,469.40 L713.50,469.05 L713.75,468.70 L714.00,468.36 L714.25,468.01 L714.50,467.67 L714.75,467.32 L715.00,466.97 L715.25,466.63 L715.50,466.28 L715.75,465.94 L716.00,465.59 L716.25,465.24 L716.50,464.90 L716.75,464.55 L717.00,464.21 L717.25,463.86 L717.50,463.51 L717.75,463.17 L718.00,462.82 L718.25,462.47 L718.50,462.13 L718.75,461.78 L719.00,461.43 L719.25,461.09 L719.50,460.74 L719.75,460.39 L720.00,460.05 L720.25,459.70 L720.50,459.35 L720.75,459.01 L721.00,458.66 L721.25,458.31 L721.50,457.97 L721.75,457.62 L722.00,457.27 L722.25,456.92 L722.50,456.58 L722.75,456.23 L723.00,455.88 L723.25,455.53 L723.50,455.19 L723.75,454.84 L724.00,454.49 L724.25,454.14 L724.50,453.80 L724.75,453.45 L725.00,453.10 L725.25,452.75 L725.50,452.40 L725.75,452.06 L726.00,451.71 L726.25,451.36 L726.50,451.01 L726.75,450.66 L727.00,450.31 L727.25,449.97 L727.50,449.62 L727.75,449.27 L728.00,448.92 L728.25,448.57 L728.50,448.22 L728.75,447.88 L729.00,447.53 L729.25,447.18 L729.50,446.83 L729.75,446.48 L730.00,446.13 L730.25,445.78 L730.50,445.43 L730.75,445.08 L731.00,444.73 L731.25,444.38 L731.50,444.03 L731.75,443.69 L732.00,443.34 L732.25,442.99 L732.50,442.64 L732.75,442.29 L733.00,441.94 L733.25,441.59 L733.50,441.24 L733.75,440.89 L734.00,440.54 L734.25,440.19 L734.50,439.84 L734.75,439.49 L735.00,439.14 L735.25,438.79 L735.50,438.44 L735.75,438.08 L736.00,437.73 L736.25,437.38 L736.50,437.03 L736.75,436.68 L737.00,436.33 L737.25,435.98 L737.50,435.63 L737.75,435.28 L738.00,434.93 L738.25,434.57 L738.50,434.22 L738.75,433.87 L739.00,433.52 L739.25,433.17 L739.50,432.82 L739.75,432.47 L740.00,432.11 L740.25,431.76 L740.50,431.41 L740.75,431.06 L741.00,430.71 L741.25,430.35 L741.50,430.00 L741.75,429.65 L742.00,429.30 L742.25,428.94 L742.50,428.59 L742.75,428.24 L743.00,427.89 L743.25,427.53 L743.50,427.18 L743.75,426.83 L744.00,426.47 L744.25,426.12 L744.50,425.77 L744.75,425.41 L745.00,425.06 L745.25,424.71 L745.50,424.35 L745.75,424.00 L746.00,423.65 L746.25,423.29 L746.50,422.94 L746.75,422.58 L747.00,422.23 L747.25,421.87 L747.50,421.52 L747.75,421.17 L748.00,420.81 L748.25,420.46 L748.50,420.10 L748.75,419.75 L749.00,419.39 L749.25,419.04 L749.50,418.68 L749.75,418.33 L750.00,417.97 L750.25,417.62 L750.50,417.26 L750.75,416.91 L751.00,416.55 L751.25,416.19 L751.50,415.84 L751.75,415.48 L752.00,415.13 L752.25,414.77 L752.50,414.41 L752.75,414.06 L753.00,413.70 L753.25,413.34 L753.50,412.99 L753.75,412.63 L754.00,412.27 L754.25,411.92 L754.50,411.56 L754.75,411.20 L755.00,410.85 L755.25,410.49 L755.50,410.13 L755.75,409.77 L756.00,409.42 L756.25,409.06 L756.50,408.70 L756.75,408.34 L757.00,407.98 L757.25,407.63 L757.50,407.27 L757.75,406.91 L758.00,406.55 L758.25,406.19 L758.50,405.83 L758.75,405.48 L759.00,405.12 L759.25,404.76 L759.50,404.40 L759.75,404.04 L760.00,403.68 L760.25,403.32 L760.50,402.96 L760.75,402.60 L761.00,402.24 L761.25,401.88 L761.50,401.52 L761.75,401.16 L762.00,400.80 L762.25,400.44 L762.50,400.08 L762.75,399.72 L763.00,399.36 L763.25,399.00 L763.50,398.64 L763.75,398.28 L764.00,397.92 L764.25,397.55 L764.50,397.19 L764.75,396.83 L765.00,396.47 L765.25,396.11 L765.50,395.75 L765.75,395.38 L766.00,395.02 L766.25,394.66 L766.50,394.30 L766.75,393.93 L767.00,393.57 L767.25,393.21 L767.50,392.85 L767.75,392.48 L768.00,392.12 L768.25,391.76 L768.50,391.39 L768.75,391.03 L769.00,390.67 L769.25,390.30 L769.50,389.94 L769.75,389.57 L770.00,389.21 L770.25,388.85 L770.50,388.48 L770.75,388.12 L771.00,387.75 L771.25,387.39 L771.50,387.02 L771.75,386.66 L772.00,386.29 L772.25,385.93 L772.50,385.56 L772.75,385.20 L773.00,384.83 L773.25,384.46 L773.50,384.10 L773.75,383.73 L774.00,383.37 L774.25,383.00 L774.50,382.63 L774.75,382.27 L775.00,381.90 L775.25,381.53 L775.50,381.17 L775.75,380.80 L776.00,380.43 L776.25,380.06 L776.50,379.70 L776.75,379.33 L777.00,378.96 L777.25,378.59 L777.50,378.22 L777.75,377.85 L778.00,377.49 L778.25,377.12 L778.50,376.75 L778.75,376.38 L779.00,376.01 L779.25,375.64 L779.50,375.27 L779.75,374.90 L780.00,374.53 L780.25,374.16 L780.50,373.79 L780.75,373.42 L781.00,373.05 L781.25,372.68 L781.50,372.31 L781.75,371.94 L782.00,371.57 L782.25,371.20 L782.50,370.83 L782.75,370.46 L783.00,370.08 L783.25,369.71 L783.50,369.34 L783.75,368.97 L784.00,368.60 L784.25,368.22 L784.50,367.85 L784.75,367.48 L785.00,367.11 L785.25,366.73 L785.50,366.36 L785.75,365.99 L786.00,365.61 L786.25,365.24 L786.50,364.86 L786.75,364.49 L787.00,364.12 L787.25,363.74 L787.50,363.37 L787.75,362.99 L788.00,362.62 L788.25,362.24 L788.50,361.87 L788.75,361.49 L789.00,361.12 L789.25,360.74 L789.50,360.37 L789.75,359.99 L790.00,359.61 L790.25,359.24 L790.50,358.86 L790.75,358.48 L791.00,358.11 L791.25,357.73 L791.50,357.35 L791.75,356.98 L792.00,356.60 L792.25,356.22 L792.50,355.84 L792.75,355.46 L793.00,355.09 L793.25,354.71 L793.50,354.33 L793.75,353.95 L794.00,353.57 L794.25,353.19 L794.50,352.81 L794.75,352.43 L795.00,352.05 L795.25,351.67 L795.50,351.29 L795.75,350.91 L796.00,350.53 L796.25,350.15 L796.50,349.77 L796.75,349.39 L797.00,349.01 L797.25,348.63 L797.50,348.24 L797.75,347.86 L798.00,347.48 L798.25,347.10 L798.50,346.72 L798.75,346.33 L799.00,345.95 L799.25,345.57 L799.50,345.18 L799.75,344.80 L800.00,344.42 L800.25,344.03 L800.50,343.65 L800.75,343.27 L801.00,342.88 L801.25,342.50 L801.50,342.11 L801.75,341.73 L802.00,341.34 L802.25,340.96 L802.50,340.57 L802.75,340.18 L803.00,339.80 L803.25,339.41 L803.50,339.03 L803.75,338.64 L804.00,338.25 L804.25,337.86 L804.50,337.48 L804.75,337.09 L805.00,336.70 L805.25,336.31 L805.50,335.93 L805.75,335.54 L806.00,335.15 L806.25,334.76 L806.50,334.37 L806.75,333.98 L807.00,333.59 L807.25,333.20 L807.50,332.81 L807.75,332.42 L808.00,332.03 L808.25,331.64 L808.50,331.25 L808.75,330.86 L809.00,330.47 L809.25,330.08 L809.50,329.69 L809.75,329.29 L810.00,328.90 L810.25,328.51 L810.50,328.12 L810.75,327.72 L811.00,327.33 L811.25,326.94 L811.50,326.54 L811.75,326.15 L812.00,325.76 L812.25,325.36 L812.50,324.97 L812.75,324.57 L813.00,324.18 L813.25,323.78 L813.50,323.39 L813.75,322.99 L814.00,322.60 L814.25,322.20 L814.50,321.80 L814.75,321.41 L815.00,321.01 L815.25,320.61 L815.50,320.22 L815.75,319.82 L816.00,319.42 L816.25,319.02 L816.50,318.62 L816.75,318.23 L817.00,317.83 L817.25,317.43 L817.50,317.03 L817.75,316.63 L818.00,316.23 L818.25,315.83 L818.50,315.43 L818.75,315.03 L819.00,314.63 L819.25,314.23 L819.50,313.82 L819.75,313.42 L820.00,313.02 L820.25,312.62 L820.50,312.22 L820.75,311.81 L821.00,311.41 L821.25,311.01 L821.50,310.60 L821.75,310.20 L822.00,309.80 L822.25,309.39 L822.50,308.99 L822.75,308.58 L823.00,308.18 L823.25,307.77 L823.50,307.37 L823.75,306.96 L824.00,306.55 L824.25,306.15 L824.50,305.74 L824.75,305.33 L825.00,304.93 L825.25,304.52 L825.50,304.11 L825.75,303.70 L826.00,303.29 L826.25,302.89 L826.50,302.48 L826.75,302.07 L827.00,301.66 L827.25,301.25 L827.50,300.84 L827.75,300.43 L828.00,300.02 L828.25,299.61 L828.50,299.19 L828.75,298.78 L829.00,298.37 L829.25,297.96 L829.50,297.55 L829.75,297.13 L830.00,296.72 L830.25,296.31 L830.50,295.89 L830.75,295.48 L831.00,295.06 L831.25,294.65 L831.50,294.23 L831.75,293.82 L832.00,293.40 L832.25,292.99 L832.50,292.57 L832.75,292.16 L833.00,291.74 L833.25,291.32 L833.50,290.90 L833.75,290.49 L834.00,290.07 L834.25,289.65 L834.50,289.23 L834.75,288.81 L835.00,288.39 L835.25,287.97 L835.50,287.55 L835.75,287.13 L836.00,286.71 L836.25,286.29 L836.50,285.87 L836.75,285.45 L837.00,285.03 L837.25,284.60 L837.50,284.18 L837.75,283.76 L838.00,283.33 L838.25,282.91 L838.50,282.49 L838.75,282.06 L839.00,281.64 L839.25,281.21 L839.50,280.79 L839.75,280.36 L840.00,279.94 L840.25,279.51 L840.50,279.08 L840.75,278.65 L841.00,278.23 L841.25,277.80 L841.50,277.37 L841.75,276.94 L842.00,276.51 L842.25,276.08 L842.50,275.65 L842.75,275.22 L843.00,274.79 L843.25,274.36 L843.50,273.93 L843.75,273.50 L844.00,273.07 L844.25,272.64 L844.50,272.20 L844.75,271.77 L845.00,271.34 L845.25,270.90 L845.50,270.47 L845.75,270.04 L846.00,269.60 L846.25,269.17 L846.50,268.73 L846.75,268.29 L847.00,267.86 L847.25,267.42 L847.50,266.98 L847.75,266.55 L848.00,266.11 L848.25,265.67 L848.50,265.23 L848.75,264.79 L849.00,264.35 L849.25,263.91 L849.50,263.47 L849.75,263.03 L850.00,262.59 L850.25,262.15 L850.50,261.71 L850.75,261.27 L851.00,260.82 L851.25,260.38 L851.50,259.94 L851.75,259.49 L852.00,259.05 L852.25,258.60 L852.50,258.16 L852.75,257.71 L853.00,257.27 L853.25,256.82 L853.50,256.37 L853.75,255.93 L854.00,255.48 L854.25,255.03 L854.50,254.58 L854.75,254.13 L855.00,253.68 L855.25,253.23 L855.50,252.78 L855.75,252.33 L856.00,251.88 L856.25,251.43 L856.50,250.98 L856.75,250.52 L857.00,250.07 L857.25,249.62 L857.50,249.16 L857.75,248.71 L858.00,248.25 L858.25,247.80 L858.50,247.34 L858.75,246.89 L859.00,246.43 L859.25,245.97 L859.50,245.51 L859.75,245.06 L860.00,244.60 L860.25,244.14 L860.50,243.68 L860.75,243.22 L861.00,242.76 L861.25,242.30 L861.50,241.84 L861.75,241.37 L862.00,240.91 L862.25,240.45 L862.50,239.98 L862.75,239.52 L863.00,239.06 L863.25,238.59 L863.50,238.13 L863.75,237.66 L864.00,237.19 L864.25,236.73 L864.50,236.26 L864.75,235.79 L865.00,235.32 L865.25,234.85 L865.50,234.38 L865.75,233.91 L866.00,233.44 L866.25,232.97 L866.50,232.50 L866.75,232.03 L867.00,231.55 L867.25,231.08 L867.50,230.61 L867.75,230.13 L868.00,229.66 L868.25,229.18 L868.50,228.71 L868.75,228.23 L869.00,227.75 L869.25,227.28 L869.50,226.80 L869.75,226.32 L870.00,225.84 L870.25,225.36 L870.50,224.88 L870.75,224.40 L871.00,223.92 L871.25,223.43 L871.50,222.95 L871.75,222.47 L872.00,221.98 L872.25,221.50 L872.50,221.01 L872.75,220.53 L873.00,220.04 L873.25,219.56 L873.50,219.07 L873.75,218.58 L874.00,218.09 L874.25,217.60 L874.50,217.11 L874.75,216.62 L875.00,216.13 L875.25,215.64 L875.50,215.15 L875.75,214.65 L876.00,214.16 L876.25,213.67 L876.50,213.17 L876.75,212.68 L877.00,212.18 L877.25,211.68 L877.50,211.19 L877.75,210.69 L878.00,210.19 L878.25,209.69 L878.50,209.19 L878.75,208.69 L879.00,208.19 L879.25,207.69 L879.50,207.18 L879.75,206.68 L880.00,206.18 L880.25,205.67 L880.50,205.16 L880.75,204.66 L881.00,204.15 L881.25,203.64 L881.50,203.14 L881.75,202.63 L882.00,202.12 L882.25,201.61 L882.50,201.10 L882.75,200.59 L883.00,200.07 L883.25,199.56 L883.50,199.05 L883.75,198.53 L884.00,198.02 L884.25,197.50 L884.50,196.98 L884.75,196.47 L885.00,195.95 L885.25,195.43 L885.50,194.91 L885.75,194.39 L886.00,193.87 L886.25,193.34 L886.50,192.82 L886.75,192.30 L887.00,191.77 L887.25,191.25 L887.50,190.72 L887.75,190.20 L888.00,189.67 L888.25,189.14 L888.50,188.61 L888.75,188.08 L889.00,187.55 L889.25,187.02 L889.50,186.49 L889.75,185.95 L890.00,185.42 L890.25,184.89 L890.50,184.35 L890.75,183.81 L891.00,183.28 L891.25,182.74 L891.50,182.20 L891.75,181.66 L892.00,181.12 L892.25,180.58 L892.50,180.03 L892.75,179.49 L893.00,178.95 L893.25,178.40 L893.50,177.85 L893.75,177.31 L894.00,176.76 L894.25,176.21 L894.50,175.66 L894.75,175.11 L895.00,174.56 L895.25,174.01 L895.50,173.45 L895.75,172.90 L896.00,172.34 L896.25,171.79 L896.50,171.23 L896.75,170.67 L897.00,170.11 L897.25,169.55 L897.50,168.99 L897.75,168.43 L898.00,167.87 L898.25,167.30 L898.50,166.74 L898.75,166.17 L899.00,165.60 L899.25,165.04 L899.50,164.47 L899.75,163.90 L900.00,163.33 L900.25,162.75 L900.50,162.18 L900.75,161.61 L901.00,161.03 L901.25,160.45 L901.50,159.88 L901.75,159.30 L902.00,158.72 L902.25,158.14 L902.50,157.55 L902.75,156.97 L903.00,156.39 L903.25,155.80 L903.50,155.22 L903.75,154.63 L904.00,154.04 L904.25,153.45 L904.50,152.86 L904.75,152.27 L905.00,151.67 L905.25,151.08 L905.50,150.48 L905.75,149.89 L906.00,149.29 L906.25,148.69 L906.50,148.09 L906.75,147.49 L907.00,146.88 L907.25,146.28 L907.50,145.67 L907.75,145.07 L908.00,144.46 L908.25,143.85 L908.50,143.24 L908.75,142.62 L909.00,142.01 L909.25,141.40 L909.50,140.78 L909.75,140.16 L910.00,139.54 L910.25,138.92 L910.50,138.30 L910.75,137.68 L911.00,137.06 L911.25,136.43 L911.50,135.80 L911.75,135.17 L912.00,134.54 L912.25,133.91 L912.50,133.28 L912.75,132.65 L913.00,132.01 L913.25,131.37 L913.50,130.73 L913.75,130.09 L914.00,129.45 L914.25,128.81 L914.50,128.16 L914.75,127.52 L915.00,126.87 L915.25,126.22 L915.50,125.57 L915.75,124.92 L916.00,124.26 L916.25,123.61 L916.50,122.95 L916.75,122.29 L917.00,121.63 L917.25,120.97 L917.50,120.30 L917.75,119.64 L918.00,118.97 L918.25,118.30 L918.50,117.63 L918.75,116.96 L919.00,116.28 L919.25,115.60 L919.50,114.93 L919.75,114.25 L920.00,113.56 L920.25,112.88 L920.50,112.19 L920.75,111.51 L921.00,110.82 L921.25,110.13 L921.50,109.43 L921.75,108.74 L922.00,108.04 L922.25,107.34 L922.50,106.64 L922.75,105.94 L923.00,105.23 L923.25,104.52 L923.50,103.81 L923.75,103.10 L924.00,102.39 L924.25,101.67 L924.50,100.95 L924.75,100.23 L925.00,99.51 L925.25,98.79 L925.50,98.06 L925.75,97.33 L926.00,96.60 L926.25,95.87 L926.50,95.13 L926.75,94.39 L927.00,93.65 L927.25,92.91 L927.50,92.16 L927.75,91.41 L928.00,90.66 L928.25,89.91 L928.50,89.16 L928.75,88.40 L929.00,87.64 L929.25,86.87 L929.50,86.11 L929.75,85.34 L930.00,84.57 L930.25,83.79 L930.50,83.02 L930.75,82.24 L931.00,81.45 L931.25,80.67 L931.50,79.88 L931.75,79.09 L932.00,78.30 L932.25,77.50 L932.50,76.70 L932.75,75.90 L933.00,75.09 L933.25,74.28 L933.50,73.47 L933.75,72.65 L934.00,71.83 L934.25,71.01 L934.50,70.18 L934.75,69.36 L935.00,68.52 L935.25,67.69 L935.50,66.85 L935.75,66.01 L936.00,65.16 L936.25,64.31 L936.50,63.46 L936.75,62.60 L937.00,61.74 L937.25,60.87 L937.50,60.00 L937.75,59.13 L938.00,58.26 L938.25,57.37 L938.50,56.49 L938.75,55.60 L939.00,54.71 L939.25,53.81 L939.50,52.91 L939.75,52.00 L940.00,51.09 L940.25,50.18 L940.50,49.26 L940.75,48.33 L941.00,47.40 L941.25,46.47 L941.50,45.53 L941.75,44.59 L942.00,43.64 L942.25,42.68 L942.50,41.72 L942.75,40.76 L943.00,39.79 L943.25,38.81 L943.50,37.83 L943.75,36.85 L944.00,35.85 L944.25,34.85 L944.50,33.85 L944.75,32.84 L945.00,31.82 L945.25,30.80 L945.50,29.77 L945.75,28.73 L946.00,27.69 L946.25,26.64 L946.50,25.59 L946.75,24.52 L947.00,23.45 L947.25,22.37 L947.50,21.29 L947.75,20.19 L948.00,19.09 L948.25,17.98 L948.50,16.86 L948.75,15.74 L949.00,14.60 L949.21,13.65" stroke="#5bc973" stroke-width="6" fill="none" stroke-linejoin="round" stroke-dasharray="25.8 5.7 13 5.7"/>

<rect x="156.8" y="483.6" width="437.80" height="126.90" fill="#fff" stroke="#262626" stroke-width="1.3"/>
<path d="M164.2,501.8 H219.3" stroke="#3d24a7" stroke-width="6"/><path d="M164.2,532.2 H219.3" stroke="#22a0e2" stroke-width="6" stroke-dasharray="25.8 5.7 13 5.7"/><path d="M164.2,562.4 H219.3" stroke="#19bcb6" stroke-width="6"/><path d="M164.2,592.6 H219.3" stroke="#5bc973" stroke-width="6" stroke-dasharray="25.8 5.7 13 5.7"/>
<g font-size="26" class="lg"><text x="225.6" y="512.70">(i) x=16<tspan font-style="italic">&#956;</tspan>m, NMC sub-layer (Sep)</text><text x="225.6" y="541.70">(ii) x=61<tspan font-style="italic">&#956;</tspan>m, NMC sub-layer</text><text x="225.6" y="572.10">(iii) x=61<tspan font-style="italic">&#956;</tspan>m, LFP sub-layer</text><text x="225.6" y="602.40">(iv) x=103<tspan font-style="italic">&#956;</tspan>m, LFP sub-layer (CC)</text></g>
</svg>
</body></html>
